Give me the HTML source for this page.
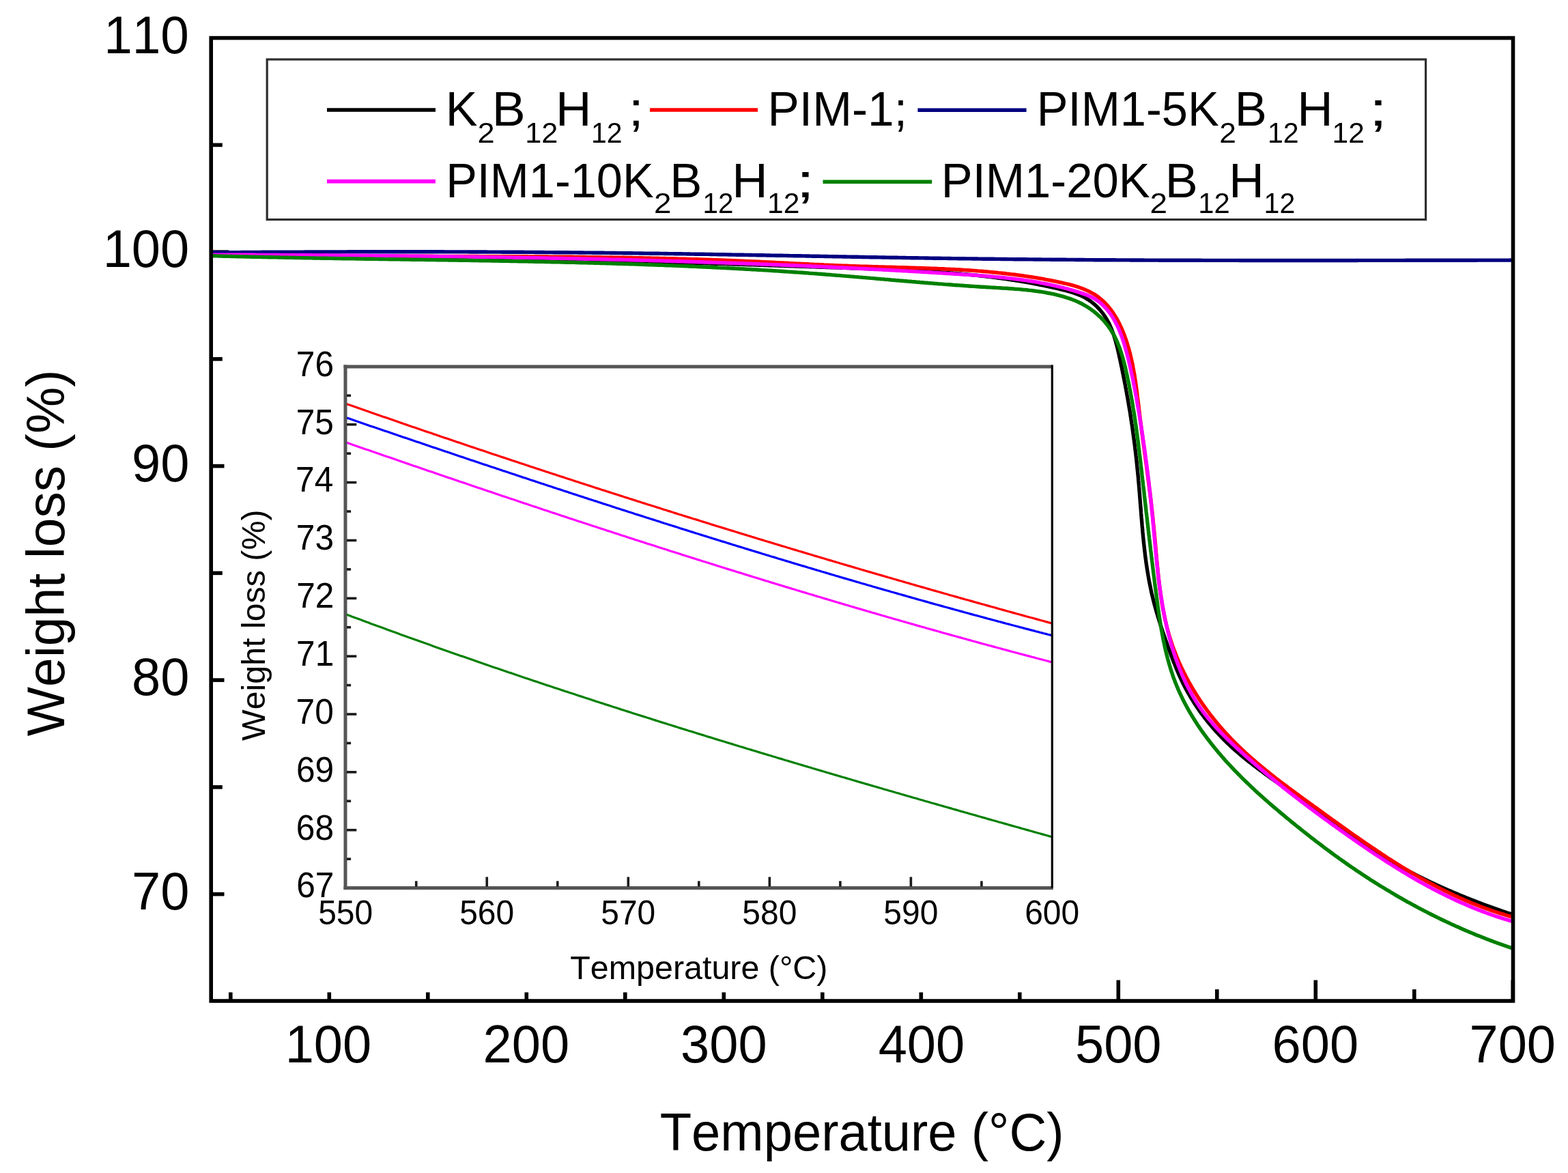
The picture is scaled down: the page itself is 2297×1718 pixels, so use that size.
<!DOCTYPE html>
<html><head><meta charset="utf-8"><title>TGA weight loss</title>
<style>html,body{margin:0;padding:0;background:#fff;width:2297px;height:1718px;overflow:hidden}svg{display:block}text{font-kerning:none;font-variant-ligatures:none}</style>
</head><body>
<svg width="2297" height="1718" viewBox="0 0 2297 1718">
<rect x="0" y="0" width="2297" height="1718" fill="#fff"/>
<g stroke="#000" stroke-width="5.6" fill="none">
<line x1="337.8" y1="1466" x2="337.8" y2="1453.4"/>
<line x1="482.3" y1="1466" x2="482.3" y2="1453.4"/>
<line x1="626.8" y1="1466" x2="626.8" y2="1453.4"/>
<line x1="771.3" y1="1466" x2="771.3" y2="1453.4"/>
<line x1="915.8" y1="1466" x2="915.8" y2="1453.4"/>
<line x1="1060.3" y1="1466" x2="1060.3" y2="1453.4"/>
<line x1="1204.8" y1="1466" x2="1204.8" y2="1453.4"/>
<line x1="1349.3" y1="1466" x2="1349.3" y2="1453.4"/>
<line x1="1493.8" y1="1466" x2="1493.8" y2="1453.4"/>
<line x1="1638.3" y1="1466" x2="1638.3" y2="1435.5"/>
<line x1="1782.8" y1="1466" x2="1782.8" y2="1449"/>
<line x1="1927.3" y1="1466" x2="1927.3" y2="1435.5"/>
<line x1="2071.8" y1="1466" x2="2071.8" y2="1449"/>
<line x1="2216.3" y1="1466" x2="2216.3" y2="1435.5"/>
<line x1="309.2" y1="1309.6" x2="328.5" y2="1309.6"/>
<line x1="309.2" y1="1152.85" x2="325.8" y2="1152.85"/>
<line x1="309.2" y1="996.1" x2="328.5" y2="996.1"/>
<line x1="309.2" y1="839.35" x2="325.8" y2="839.35"/>
<line x1="309.2" y1="682.6" x2="328.5" y2="682.6"/>
<line x1="309.2" y1="525.85" x2="325.8" y2="525.85"/>
<line x1="309.2" y1="369.1" x2="335" y2="369.1"/>
<line x1="309.2" y1="212.35" x2="325.8" y2="212.35"/>
</g>
<g fill="none" stroke-width="5.4" stroke-linejoin="round" stroke-linecap="butt">
<path d="M308.9,374.2 311.9,374.2 314.9,374.2 318.0,374.2 321.0,374.2 324.0,374.2 327.0,374.2 330.0,374.2 333.0,374.1 336.0,374.1 339.1,374.1 342.1,374.1 345.1,374.1 348.1,374.1 351.1,374.1 354.1,374.1 357.1,374.1 360.1,374.1 363.2,374.1 366.2,374.1 369.2,374.1 372.2,374.1 375.2,374.1 378.2,374.1 381.2,374.1 384.2,374.1 387.3,374.1 390.3,374.1 393.3,374.1 396.3,374.1 399.3,374.1 402.3,374.1 405.3,374.1 408.3,374.1 411.3,374.1 414.4,374.1 417.4,374.1 420.4,374.1 423.4,374.1 426.4,374.1 429.4,374.1 432.4,374.2 435.4,374.2 438.4,374.2 441.4,374.2 444.5,374.2 447.5,374.2 450.5,374.2 453.5,374.2 456.5,374.3 459.5,374.3 462.5,374.3 465.5,374.3 468.5,374.3 471.5,374.3 474.5,374.4 477.6,374.4 480.6,374.4 483.6,374.4 486.6,374.4 489.6,374.5 492.6,374.5 495.6,374.5 498.6,374.5 501.6,374.6 504.6,374.6 507.6,374.6 510.6,374.6 513.6,374.6 516.7,374.7 519.7,374.7 522.7,374.7 525.7,374.8 528.7,374.8 531.7,374.8 534.7,374.8 537.7,374.9 540.7,374.9 543.7,374.9 546.7,375.0 549.7,375.0 552.7,375.0 555.7,375.1 558.7,375.1 561.8,375.1 564.8,375.2 567.8,375.2 570.8,375.2 573.8,375.3 576.8,375.3 579.8,375.3 582.8,375.4 585.8,375.4 588.8,375.5 591.8,375.5 594.8,375.5 597.8,375.6 600.8,375.6 603.8,375.7 606.8,375.7 609.8,375.7 612.9,375.8 615.9,375.8 618.9,375.9 621.9,375.9 624.9,376.0 627.9,376.0 630.9,376.1 633.9,376.1 636.9,376.1 639.9,376.2 642.9,376.2 645.9,376.3 648.9,376.3 651.9,376.4 654.9,376.4 657.9,376.5 660.9,376.5 663.9,376.6 666.9,376.6 669.9,376.7 672.9,376.7 676.0,376.8 679.0,376.8 682.0,376.9 685.0,377.0 688.0,377.0 691.0,377.1 694.0,377.1 697.0,377.2 700.0,377.2 703.0,377.3 706.0,377.3 709.0,377.4 712.0,377.5 715.0,377.5 718.0,377.6 721.0,377.6 724.0,377.7 727.0,377.8 730.0,377.8 733.0,377.9 736.0,377.9 739.0,378.0 742.0,378.1 745.0,378.1 748.0,378.2 751.0,378.2 754.0,378.3 757.1,378.4 760.1,378.4 763.1,378.5 766.1,378.6 769.1,378.6 772.1,378.7 775.1,378.8 778.1,378.8 781.1,378.9 784.1,379.0 787.1,379.0 790.1,379.1 793.1,379.2 796.1,379.2 799.1,379.3 802.1,379.4 805.1,379.4 808.1,379.5 811.1,379.6 814.1,379.7 817.1,379.7 820.1,379.8 823.1,379.9 826.1,379.9 829.1,380.0 832.1,380.1 835.1,380.2 838.1,380.2 841.1,380.3 844.1,380.4 847.2,380.5 850.2,380.5 853.2,380.6 856.2,380.7 859.2,380.8 862.2,380.8 865.2,380.9 868.2,381.0 871.2,381.1 874.2,381.2 877.2,381.2 880.2,381.3 883.2,381.4 886.2,381.5 889.2,381.5 892.2,381.6 895.2,381.7 898.2,381.8 901.2,381.9 904.2,381.9 907.2,382.0 910.2,382.1 913.2,382.2 916.2,382.3 919.2,382.4 922.2,382.4 925.2,382.5 928.2,382.6 931.2,382.7 934.3,382.8 937.3,382.9 940.3,382.9 943.3,383.0 946.3,383.1 949.3,383.2 952.3,383.3 955.3,383.4 958.3,383.5 961.3,383.5 964.3,383.6 967.3,383.7 970.3,383.8 973.3,383.9 976.3,384.0 979.3,384.1 982.3,384.2 985.3,384.2 988.3,384.3 991.3,384.4 994.3,384.5 997.3,384.6 1000.3,384.7 1003.3,384.8 1006.3,384.9 1009.4,385.0 1012.4,385.1 1015.4,385.1 1018.4,385.2 1021.4,385.3 1024.4,385.4 1027.4,385.5 1030.4,385.6 1033.4,385.7 1036.4,385.8 1039.4,385.9 1042.4,386.0 1045.4,386.1 1048.4,386.2 1051.4,386.3 1054.4,386.3 1057.4,386.4 1060.4,386.5 1063.4,386.6 1066.4,386.7 1069.5,386.8 1072.5,386.9 1075.5,387.0 1078.5,387.1 1081.5,387.2 1084.5,387.3 1087.5,387.4 1090.5,387.5 1093.5,387.6 1096.5,387.7 1099.5,387.8 1102.5,387.9 1105.5,388.0 1108.5,388.1 1111.5,388.2 1114.5,388.3 1117.6,388.4 1120.6,388.5 1123.6,388.6 1126.6,388.7 1129.6,388.8 1132.6,388.9 1135.6,389.0 1138.6,389.1 1141.6,389.2 1144.6,389.3 1147.6,389.4 1150.6,389.5 1153.6,389.6 1156.6,389.7 1159.7,389.8 1162.7,389.9 1165.7,390.0 1168.7,390.1 1171.7,390.2 1174.7,390.3 1177.7,390.4 1180.7,390.5 1183.7,390.6 1186.7,390.7 1189.7,390.8 1192.7,390.9 1195.8,391.0 1198.8,391.1 1201.8,391.2 1204.8,391.3 1207.8,391.4 1210.8,391.5 1213.8,391.6 1216.8,391.7 1219.8,391.8 1222.8,391.9 1225.9,392.0 1228.9,392.1 1231.9,392.2 1234.9,392.3 1237.9,392.4 1240.9,392.5 1243.9,392.6 1246.9,392.7 1249.9,392.8 1252.9,392.9 1256.0,393.0 1259.0,393.1 1262.0,393.2 1265.0,393.3 1268.0,393.5 1271.0,393.6 1274.0,393.7 1277.0,393.8 1280.0,393.9 1283.1,394.0 1286.1,394.1 1289.1,394.2 1292.1,394.3 1295.1,394.5 1298.1,394.6 1301.1,394.7 1304.1,394.8 1307.1,394.9 1310.2,395.1 1313.2,395.2 1316.2,395.3 1319.2,395.5 1322.2,395.6 1325.2,395.7 1328.2,395.9 1331.2,396.0 1334.2,396.2 1337.2,396.3 1340.2,396.5 1343.3,396.6 1346.3,396.8 1349.3,397.0 1352.3,397.1 1355.3,397.3 1358.3,397.5 1361.3,397.7 1364.3,397.9 1367.3,398.1 1370.3,398.3 1373.3,398.5 1376.3,398.7 1379.3,398.9 1382.3,399.1 1385.3,399.3 1388.3,399.5 1391.3,399.8 1394.3,400.0 1397.3,400.3 1400.3,400.5 1403.3,400.8 1406.3,401.0 1409.3,401.3 1412.3,401.5 1415.3,401.8 1418.3,402.1 1421.3,402.4 1424.3,402.7 1427.3,403.0 1430.3,403.3 1433.3,403.6 1436.3,404.0 1439.3,404.3 1442.3,404.6 1445.3,405.0 1448.3,405.3 1451.2,405.7 1454.2,406.1 1457.2,406.4 1460.2,406.8 1463.2,407.2 1466.2,407.6 1469.2,408.0 1472.1,408.4 1475.1,408.9 1478.1,409.3 1481.1,409.8 1484.1,410.2 1487.0,410.7 1490.0,411.1 1493.0,411.6 1496.0,412.1 1499.0,412.6 1501.9,413.1 1504.9,413.6 1507.9,414.2 1510.8,414.7 1513.8,415.3 1516.8,415.8 1519.8,416.4 1522.7,417.0 1525.7,417.6 1528.7,418.2 1531.6,418.8 1534.6,419.4 1537.5,420.0 1540.5,420.7 1543.5,421.3 1546.4,422.0 1549.4,422.7 1552.3,423.3 1555.3,424.1 1558.2,424.8 1561.1,425.5 1564.1,426.3 1567.0,427.1 1569.8,428.0 1572.7,428.9 1575.5,429.9 1578.2,430.9 1580.9,432.0 1583.6,433.1 1586.2,434.4 1588.8,435.7 1591.3,437.1 1593.7,438.6 1596.1,440.2 1598.4,441.8 1600.7,443.6 1602.9,445.4 1605.0,447.3 1607.1,449.3 1609.0,451.3 1611.0,453.4 1612.8,455.6 1614.6,457.9 1616.4,460.2 1618.0,462.5 1619.6,465.0 1621.2,467.5 1622.6,470.0 1624.0,472.6 1625.4,475.3 1626.6,478.0 1627.8,480.7 1628.9,483.5 1630.0,486.4 1631.0,489.2 1632.0,492.1 1632.9,495.1 1633.8,498.0 1634.6,501.0 1635.4,504.0 1636.2,507.0 1637.0,510.0 1637.7,513.1 1638.4,516.1 1639.1,519.1 1639.7,522.2 1640.4,525.2 1641.1,528.3 1641.7,531.3 1642.3,534.3 1643.0,537.3 1643.6,540.3 1644.2,543.3 1644.8,546.4 1645.5,549.4 1646.0,552.4 1646.6,555.3 1647.2,558.3 1647.8,561.3 1648.4,564.3 1648.9,567.3 1649.5,570.3 1650.0,573.2 1650.6,576.2 1651.1,579.2 1651.7,582.2 1652.2,585.1 1652.7,588.1 1653.2,591.1 1653.7,594.0 1654.2,597.0 1654.7,599.9 1655.2,602.9 1655.7,605.8 1656.1,608.8 1656.6,611.7 1657.0,614.7 1657.5,617.6 1657.9,620.6 1658.4,623.5 1658.8,626.5 1659.2,629.4 1659.6,632.4 1660.0,635.3 1660.4,638.3 1660.8,641.2 1661.2,644.2 1661.6,647.2 1662.0,650.1 1662.4,653.1 1662.7,656.0 1663.1,659.0 1663.4,661.9 1663.8,664.9 1664.1,667.8 1664.5,670.8 1664.8,673.8 1665.1,676.7 1665.4,679.7 1665.7,682.7 1666.0,685.6 1666.3,688.6 1666.6,691.6 1666.9,694.6 1667.2,697.6 1667.5,700.6 1667.7,703.5 1668.0,706.5 1668.3,709.5 1668.5,712.5 1668.8,715.5 1669.0,718.5 1669.3,721.5 1669.5,724.6 1669.7,727.6 1670.0,730.6 1670.2,733.6 1670.4,736.6 1670.7,739.6 1670.9,742.6 1671.2,745.6 1671.4,748.7 1671.6,751.7 1671.9,754.7 1672.1,757.7 1672.4,760.7 1672.6,763.8 1672.9,766.8 1673.1,769.8 1673.4,772.8 1673.7,775.8 1673.9,778.8 1674.2,781.8 1674.5,784.9 1674.8,787.9 1675.1,790.9 1675.4,793.9 1675.7,796.9 1676.1,799.9 1676.4,802.9 1676.7,805.9 1677.1,808.9 1677.4,811.9 1677.8,814.9 1678.2,817.9 1678.6,820.9 1679.0,823.8 1679.4,826.8 1679.9,829.8 1680.3,832.8 1680.8,835.7 1681.3,838.7 1681.8,841.7 1682.3,844.6 1682.8,847.6 1683.3,850.5 1683.9,853.5 1684.5,856.4 1685.1,859.3 1685.7,862.3 1686.3,865.2 1686.9,868.1 1687.6,871.0 1688.3,873.9 1689.0,876.8 1689.7,879.7 1690.5,882.6 1691.2,885.5 1692.0,888.3 1692.8,891.2 1693.6,894.1 1694.4,897.0 1695.3,899.8 1696.1,902.7 1697.0,905.5 1697.9,908.4 1698.8,911.2 1699.7,914.1 1700.6,916.9 1701.5,919.7 1702.5,922.6 1703.4,925.4 1704.4,928.3 1705.4,931.1 1706.4,933.9 1707.4,936.8 1708.4,939.6 1709.4,942.4 1710.4,945.3 1711.4,948.1 1712.4,950.9 1713.4,953.7 1714.5,956.6 1715.5,959.4 1716.6,962.2 1717.7,965.0 1718.7,967.9 1719.8,970.7 1721.0,973.5 1722.1,976.3 1723.2,979.1 1724.4,981.8 1725.6,984.6 1726.8,987.4 1728.0,990.1 1729.3,992.9 1730.5,995.6 1731.8,998.3 1733.1,1001.0 1734.5,1003.7 1735.9,1006.4 1737.3,1009.0 1738.7,1011.7 1740.2,1014.3 1741.7,1016.9 1743.2,1019.5 1744.7,1022.1 1746.3,1024.6 1747.9,1027.2 1749.5,1029.7 1751.1,1032.2 1752.8,1034.7 1754.5,1037.2 1756.2,1039.7 1757.9,1042.1 1759.7,1044.6 1761.5,1047.0 1763.3,1049.4 1765.1,1051.8 1767.0,1054.1 1768.8,1056.5 1770.7,1058.8 1772.6,1061.1 1774.6,1063.4 1776.5,1065.7 1778.5,1067.9 1780.5,1070.2 1782.5,1072.4 1784.6,1074.6 1786.6,1076.8 1788.7,1079.0 1790.8,1081.1 1792.9,1083.3 1795.0,1085.4 1797.2,1087.5 1799.3,1089.6 1801.5,1091.6 1803.7,1093.7 1805.9,1095.7 1808.2,1097.7 1810.4,1099.7 1812.7,1101.6 1814.9,1103.6 1817.2,1105.5 1819.5,1107.5 1821.8,1109.4 1824.2,1111.3 1826.5,1113.2 1828.8,1115.0 1831.2,1116.9 1833.6,1118.7 1835.9,1120.6 1838.3,1122.4 1840.7,1124.2 1843.1,1126.0 1845.5,1127.8 1848.0,1129.6 1850.4,1131.4 1852.8,1133.2 1855.3,1134.9 1857.7,1136.7 1860.1,1138.5 1862.6,1140.2 1865.1,1142.0 1867.5,1143.7 1870.0,1145.4 1872.4,1147.2 1874.9,1148.9 1877.4,1150.7 1879.8,1152.4 1882.3,1154.1 1884.8,1155.9 1887.2,1157.6 1889.7,1159.3 1892.2,1161.1 1894.6,1162.8 1897.1,1164.6 1899.5,1166.3 1902.0,1168.1 1904.4,1169.8 1906.9,1171.6 1909.3,1173.4 1911.8,1175.2 1914.2,1176.9 1916.6,1178.7 1919.0,1180.5 1921.5,1182.3 1923.9,1184.1 1926.3,1185.8 1928.7,1187.6 1931.2,1189.4 1933.6,1191.2 1936.0,1193.0 1938.4,1194.8 1940.8,1196.6 1943.3,1198.4 1945.7,1200.1 1948.1,1201.9 1950.5,1203.7 1952.9,1205.5 1955.4,1207.2 1957.8,1209.0 1960.2,1210.8 1962.7,1212.5 1965.1,1214.3 1967.5,1216.0 1970.0,1217.8 1972.4,1219.5 1974.9,1221.3 1977.3,1223.0 1979.8,1224.7 1982.2,1226.4 1984.7,1228.1 1987.2,1229.8 1989.7,1231.5 1992.1,1233.2 1994.6,1234.9 1997.1,1236.6 1999.6,1238.2 2002.1,1239.9 2004.7,1241.5 2007.2,1243.1 2009.7,1244.7 2012.2,1246.3 2014.8,1247.9 2017.3,1249.5 2019.9,1251.1 2022.5,1252.6 2025.0,1254.2 2027.6,1255.7 2030.2,1257.3 2032.8,1258.8 2035.4,1260.3 2038.0,1261.8 2040.6,1263.3 2043.2,1264.8 2045.8,1266.2 2048.5,1267.7 2051.1,1269.1 2053.7,1270.6 2056.4,1272.0 2059.0,1273.4 2061.7,1274.9 2064.3,1276.3 2067.0,1277.6 2069.7,1279.0 2072.4,1280.4 2075.0,1281.8 2077.7,1283.1 2080.4,1284.5 2083.1,1285.8 2085.8,1287.1 2088.5,1288.5 2091.2,1289.8 2093.9,1291.1 2096.7,1292.4 2099.4,1293.6 2102.1,1294.9 2104.8,1296.2 2107.6,1297.4 2110.3,1298.7 2113.1,1299.9 2115.8,1301.1 2118.6,1302.4 2121.3,1303.6 2124.1,1304.8 2126.8,1306.0 2129.6,1307.2 2132.4,1308.3 2135.2,1309.5 2137.9,1310.7 2140.7,1311.8 2143.5,1312.9 2146.3,1314.1 2149.1,1315.2 2151.9,1316.3 2154.7,1317.4 2157.5,1318.5 2160.3,1319.6 2163.1,1320.7 2165.9,1321.8 2168.7,1322.8 2171.5,1323.9 2174.3,1325.0 2177.1,1326.0 2179.9,1327.0 2182.8,1328.1 2185.6,1329.1 2188.4,1330.1 2191.2,1331.1 2194.1,1332.1 2196.9,1333.1 2199.7,1334.1 2202.6,1335.0 2205.4,1336.0 2208.2,1337.0 2211.1,1337.9 2213.9,1338.9" stroke="#000"/>
<path d="M309.1,371.2 312.1,371.3 315.1,371.4 318.1,371.5 321.1,371.6 324.0,371.7 327.0,371.8 330.0,371.8 333.0,371.9 336.0,372.0 339.0,372.1 342.0,372.1 345.0,372.2 348.0,372.3 351.0,372.4 354.0,372.4 357.0,372.5 360.0,372.6 363.0,372.6 366.0,372.7 369.0,372.8 372.0,372.8 375.0,372.9 378.0,373.0 381.0,373.0 384.0,373.1 387.0,373.1 390.0,373.2 393.0,373.3 396.0,373.3 399.0,373.4 402.0,373.4 405.1,373.5 408.1,373.5 411.1,373.6 414.1,373.6 417.1,373.7 420.1,373.7 423.1,373.8 426.1,373.8 429.1,373.8 432.1,373.9 435.1,373.9 438.1,374.0 441.1,374.0 444.1,374.1 447.1,374.1 450.1,374.1 453.1,374.2 456.1,374.2 459.1,374.2 462.1,374.3 465.1,374.3 468.1,374.3 471.1,374.4 474.1,374.4 477.1,374.4 480.1,374.5 483.2,374.5 486.2,374.5 489.2,374.6 492.2,374.6 495.2,374.6 498.2,374.6 501.2,374.7 504.2,374.7 507.2,374.7 510.2,374.7 513.2,374.8 516.2,374.8 519.2,374.8 522.2,374.8 525.2,374.8 528.2,374.9 531.2,374.9 534.3,374.9 537.3,374.9 540.3,374.9 543.3,375.0 546.3,375.0 549.3,375.0 552.3,375.0 555.3,375.0 558.3,375.0 561.3,375.1 564.3,375.1 567.3,375.1 570.3,375.1 573.4,375.1 576.4,375.1 579.4,375.1 582.4,375.2 585.4,375.2 588.4,375.2 591.4,375.2 594.4,375.2 597.4,375.2 600.4,375.2 603.4,375.2 606.4,375.3 609.4,375.3 612.5,375.3 615.5,375.3 618.5,375.3 621.5,375.3 624.5,375.3 627.5,375.3 630.5,375.3 633.5,375.3 636.5,375.4 639.5,375.4 642.5,375.4 645.6,375.4 648.6,375.4 651.6,375.4 654.6,375.4 657.6,375.4 660.6,375.4 663.6,375.4 666.6,375.4 669.6,375.4 672.6,375.5 675.6,375.5 678.7,375.5 681.7,375.5 684.7,375.5 687.7,375.5 690.7,375.5 693.7,375.5 696.7,375.5 699.7,375.5 702.7,375.6 705.7,375.6 708.7,375.6 711.8,375.6 714.8,375.6 717.8,375.6 720.8,375.6 723.8,375.6 726.8,375.6 729.8,375.6 732.8,375.7 735.8,375.7 738.8,375.7 741.8,375.7 744.9,375.7 747.9,375.7 750.9,375.7 753.9,375.8 756.9,375.8 759.9,375.8 762.9,375.8 765.9,375.8 768.9,375.8 771.9,375.8 774.9,375.9 778.0,375.9 781.0,375.9 784.0,375.9 787.0,375.9 790.0,376.0 793.0,376.0 796.0,376.0 799.0,376.0 802.0,376.0 805.0,376.1 808.0,376.1 811.0,376.1 814.1,376.1 817.1,376.2 820.1,376.2 823.1,376.2 826.1,376.2 829.1,376.3 832.1,376.3 835.1,376.3 838.1,376.3 841.1,376.4 844.1,376.4 847.1,376.4 850.1,376.5 853.2,376.5 856.2,376.5 859.2,376.6 862.2,376.6 865.2,376.6 868.2,376.7 871.2,376.7 874.2,376.7 877.2,376.8 880.2,376.8 883.2,376.9 886.2,376.9 889.2,376.9 892.2,377.0 895.2,377.0 898.3,377.1 901.3,377.1 904.3,377.2 907.3,377.2 910.3,377.3 913.3,377.3 916.3,377.4 919.3,377.4 922.3,377.5 925.3,377.5 928.3,377.6 931.3,377.6 934.3,377.7 937.3,377.7 940.3,377.8 943.3,377.9 946.3,377.9 949.3,378.0 952.4,378.0 955.4,378.1 958.4,378.2 961.4,378.2 964.4,378.3 967.4,378.4 970.4,378.4 973.4,378.5 976.4,378.6 979.4,378.7 982.4,378.7 985.4,378.8 988.4,378.9 991.4,379.0 994.4,379.1 997.4,379.1 1000.4,379.2 1003.4,379.3 1006.4,379.4 1009.4,379.5 1012.4,379.6 1015.4,379.6 1018.4,379.7 1021.4,379.8 1024.4,379.9 1027.4,380.0 1030.4,380.1 1033.4,380.2 1036.4,380.3 1039.4,380.4 1042.4,380.5 1045.4,380.6 1048.4,380.7 1051.4,380.8 1054.4,380.9 1057.4,381.0 1060.4,381.2 1063.4,381.3 1066.4,381.4 1069.4,381.5 1072.4,381.6 1075.4,381.7 1078.4,381.9 1081.4,382.0 1084.4,382.1 1087.4,382.2 1090.4,382.4 1093.4,382.5 1096.4,382.6 1099.4,382.8 1102.4,382.9 1105.4,383.0 1108.4,383.2 1111.4,383.3 1114.4,383.4 1117.4,383.6 1120.4,383.7 1123.4,383.9 1126.4,384.0 1129.4,384.2 1132.3,384.3 1135.3,384.4 1138.3,384.6 1141.3,384.7 1144.3,384.9 1147.3,385.0 1150.3,385.2 1153.3,385.3 1156.3,385.5 1159.3,385.6 1162.3,385.8 1165.3,385.9 1168.3,386.1 1171.3,386.2 1174.3,386.4 1177.3,386.5 1180.3,386.7 1183.3,386.8 1186.3,387.0 1189.3,387.1 1192.3,387.3 1195.3,387.4 1198.3,387.5 1201.3,387.7 1204.3,387.8 1207.3,388.0 1210.3,388.1 1213.3,388.2 1216.3,388.4 1219.3,388.5 1222.3,388.6 1225.3,388.7 1228.3,388.9 1231.3,389.0 1234.3,389.1 1237.3,389.2 1240.3,389.3 1243.3,389.4 1246.3,389.6 1249.3,389.7 1252.3,389.8 1255.3,389.9 1258.3,390.0 1261.3,390.1 1264.3,390.2 1267.3,390.3 1270.3,390.3 1273.3,390.4 1276.3,390.5 1279.3,390.6 1282.3,390.7 1285.3,390.8 1288.4,390.9 1291.4,390.9 1294.4,391.0 1297.4,391.1 1300.4,391.2 1303.4,391.3 1306.4,391.3 1309.4,391.4 1312.4,391.5 1315.4,391.6 1318.5,391.7 1321.5,391.7 1324.5,391.8 1327.5,391.9 1330.5,392.0 1333.5,392.1 1336.5,392.2 1339.5,392.3 1342.5,392.4 1345.6,392.4 1348.6,392.5 1351.6,392.6 1354.6,392.7 1357.6,392.9 1360.6,393.0 1363.6,393.1 1366.6,393.2 1369.7,393.3 1372.7,393.4 1375.7,393.6 1378.7,393.7 1381.7,393.8 1384.7,394.0 1387.7,394.1 1390.7,394.2 1393.7,394.4 1396.8,394.5 1399.8,394.7 1402.8,394.9 1405.8,395.0 1408.8,395.2 1411.8,395.4 1414.8,395.6 1417.8,395.8 1420.8,396.0 1423.8,396.2 1426.8,396.4 1429.9,396.6 1432.9,396.9 1435.9,397.1 1438.9,397.3 1441.9,397.6 1444.9,397.8 1447.9,398.1 1450.9,398.4 1453.9,398.7 1456.9,399.0 1459.9,399.2 1462.9,399.6 1465.9,399.9 1468.9,400.2 1471.9,400.5 1474.9,400.9 1477.9,401.2 1480.9,401.6 1483.9,401.9 1486.9,402.3 1489.9,402.7 1492.9,403.1 1495.9,403.5 1498.9,403.9 1501.9,404.4 1504.9,404.8 1507.9,405.3 1510.9,405.7 1513.9,406.2 1516.9,406.7 1519.9,407.2 1522.8,407.7 1525.8,408.2 1528.8,408.7 1531.8,409.3 1534.8,409.8 1537.8,410.4 1540.8,411.0 1543.8,411.6 1546.7,412.2 1549.7,412.8 1552.7,413.5 1555.7,414.1 1558.7,414.8 1561.6,415.5 1564.6,416.2 1567.5,416.9 1570.4,417.7 1573.3,418.5 1576.2,419.4 1579.0,420.3 1581.8,421.2 1584.6,422.2 1587.3,423.3 1590.0,424.4 1592.7,425.6 1595.3,426.8 1597.8,428.1 1600.3,429.5 1602.8,430.9 1605.2,432.4 1607.5,434.0 1609.7,435.7 1611.9,437.5 1614.1,439.3 1616.2,441.2 1618.2,443.2 1620.1,445.2 1622.1,447.3 1623.9,449.4 1625.7,451.6 1627.5,453.9 1629.2,456.2 1630.8,458.6 1632.4,461.1 1634.0,463.5 1635.5,466.1 1636.9,468.6 1638.3,471.3 1639.7,473.9 1641.0,476.6 1642.3,479.3 1643.5,482.1 1644.7,484.9 1645.9,487.7 1647.0,490.6 1648.0,493.5 1649.1,496.4 1650.1,499.3 1651.0,502.2 1651.9,505.2 1652.8,508.2 1653.7,511.1 1654.5,514.1 1655.3,517.1 1656.0,520.1 1656.7,523.2 1657.4,526.2 1658.1,529.2 1658.7,532.2 1659.4,535.2 1659.9,538.2 1660.5,541.2 1661.0,544.3 1661.6,547.3 1662.1,550.3 1662.5,553.3 1663.0,556.3 1663.5,559.3 1663.9,562.3 1664.3,565.3 1664.7,568.3 1665.1,571.3 1665.5,574.3 1665.9,577.3 1666.2,580.3 1666.6,583.3 1667.0,586.3 1667.3,589.2 1667.7,592.2 1668.1,595.2 1668.4,598.2 1668.8,601.2 1669.1,604.2 1669.5,607.1 1669.9,610.1 1670.2,613.1 1670.6,616.1 1671.0,619.0 1671.4,622.0 1671.8,625.0 1672.2,627.9 1672.5,630.9 1672.9,633.9 1673.3,636.8 1673.7,639.8 1674.1,642.8 1674.5,645.7 1674.9,648.7 1675.3,651.6 1675.7,654.6 1676.1,657.6 1676.5,660.5 1676.9,663.5 1677.3,666.4 1677.7,669.4 1678.1,672.4 1678.5,675.3 1678.9,678.3 1679.3,681.2 1679.7,684.2 1680.1,687.2 1680.5,690.1 1680.9,693.1 1681.2,696.0 1681.6,699.0 1682.0,702.0 1682.4,704.9 1682.8,707.9 1683.2,710.9 1683.5,713.8 1683.9,716.8 1684.3,719.8 1684.7,722.7 1685.0,725.7 1685.4,728.7 1685.8,731.6 1686.1,734.6 1686.5,737.6 1686.8,740.6 1687.2,743.5 1687.5,746.5 1687.8,749.5 1688.2,752.5 1688.5,755.5 1688.8,758.5 1689.1,761.5 1689.4,764.5 1689.7,767.5 1690.1,770.5 1690.3,773.5 1690.6,776.5 1690.9,779.5 1691.2,782.5 1691.5,785.5 1691.8,788.5 1692.0,791.5 1692.3,794.6 1692.6,797.6 1692.8,800.6 1693.1,803.6 1693.4,806.6 1693.6,809.7 1693.9,812.7 1694.2,815.7 1694.4,818.7 1694.7,821.7 1695.0,824.8 1695.3,827.8 1695.6,830.8 1695.9,833.8 1696.2,836.8 1696.5,839.8 1696.8,842.9 1697.1,845.9 1697.5,848.9 1697.8,851.9 1698.2,854.9 1698.5,857.9 1698.9,860.9 1699.3,863.9 1699.7,866.9 1700.1,869.9 1700.6,872.8 1701.0,875.8 1701.5,878.8 1701.9,881.8 1702.4,884.7 1702.9,887.7 1703.5,890.7 1704.0,893.6 1704.6,896.5 1705.2,899.5 1705.8,902.4 1706.4,905.4 1707.0,908.3 1707.7,911.2 1708.4,914.1 1709.1,917.0 1709.8,919.9 1710.6,922.8 1711.4,925.7 1712.2,928.5 1713.0,931.4 1713.9,934.3 1714.8,937.1 1715.7,940.0 1716.7,942.8 1717.6,945.6 1718.6,948.4 1719.6,951.2 1720.7,954.0 1721.8,956.8 1722.9,959.6 1724.0,962.4 1725.2,965.1 1726.3,967.9 1727.5,970.6 1728.8,973.3 1730.0,976.1 1731.3,978.8 1732.6,981.5 1733.9,984.2 1735.2,986.8 1736.6,989.5 1738.0,992.2 1739.4,994.8 1740.8,997.5 1742.3,1000.1 1743.8,1002.7 1745.3,1005.3 1746.8,1007.9 1748.3,1010.5 1749.9,1013.0 1751.5,1015.6 1753.1,1018.1 1754.7,1020.7 1756.4,1023.2 1758.0,1025.7 1759.7,1028.2 1761.4,1030.7 1763.1,1033.1 1764.9,1035.6 1766.6,1038.0 1768.4,1040.5 1770.2,1042.9 1772.0,1045.3 1773.8,1047.7 1775.7,1050.0 1777.6,1052.4 1779.4,1054.7 1781.3,1057.1 1783.3,1059.4 1785.2,1061.7 1787.2,1064.0 1789.1,1066.3 1791.1,1068.5 1793.1,1070.8 1795.1,1073.0 1797.1,1075.2 1799.2,1077.4 1801.2,1079.6 1803.3,1081.8 1805.4,1083.9 1807.5,1086.1 1809.6,1088.2 1811.7,1090.3 1813.9,1092.4 1816.0,1094.5 1818.2,1096.5 1820.4,1098.6 1822.6,1100.6 1824.8,1102.7 1827.0,1104.7 1829.2,1106.7 1831.4,1108.7 1833.7,1110.7 1835.9,1112.6 1838.2,1114.6 1840.5,1116.6 1842.8,1118.5 1845.1,1120.4 1847.4,1122.4 1849.7,1124.3 1852.0,1126.2 1854.3,1128.1 1856.7,1129.9 1859.0,1131.8 1861.3,1133.7 1863.7,1135.5 1866.1,1137.4 1868.4,1139.3 1870.8,1141.1 1873.2,1142.9 1875.6,1144.8 1878.0,1146.6 1880.4,1148.4 1882.8,1150.2 1885.2,1152.0 1887.6,1153.8 1890.0,1155.6 1892.5,1157.4 1894.9,1159.2 1897.3,1161.0 1899.7,1162.8 1902.2,1164.5 1904.6,1166.3 1907.0,1168.1 1909.5,1169.9 1911.9,1171.6 1914.4,1173.4 1916.8,1175.2 1919.3,1176.9 1921.7,1178.7 1924.1,1180.5 1926.6,1182.2 1929.0,1184.0 1931.5,1185.8 1933.9,1187.6 1936.4,1189.3 1938.8,1191.1 1941.3,1192.9 1943.7,1194.6 1946.2,1196.4 1948.6,1198.1 1951.0,1199.9 1953.5,1201.7 1955.9,1203.4 1958.4,1205.2 1960.8,1206.9 1963.3,1208.7 1965.7,1210.5 1968.2,1212.2 1970.7,1214.0 1973.1,1215.7 1975.6,1217.4 1978.0,1219.2 1980.5,1220.9 1982.9,1222.6 1985.4,1224.4 1987.9,1226.1 1990.3,1227.8 1992.8,1229.5 1995.3,1231.3 1997.8,1233.0 2000.2,1234.7 2002.7,1236.4 2005.2,1238.1 2007.7,1239.8 2010.2,1241.4 2012.7,1243.1 2015.2,1244.8 2017.7,1246.5 2020.2,1248.1 2022.7,1249.8 2025.2,1251.5 2027.7,1253.1 2030.2,1254.7 2032.7,1256.4 2035.2,1258.0 2037.7,1259.6 2040.3,1261.2 2042.8,1262.8 2045.3,1264.4 2047.9,1266.0 2050.4,1267.6 2053.0,1269.2 2055.5,1270.8 2058.1,1272.3 2060.6,1273.9 2063.2,1275.4 2065.8,1276.9 2068.4,1278.5 2070.9,1280.0 2073.5,1281.5 2076.1,1283.0 2078.7,1284.5 2081.3,1286.0 2083.9,1287.4 2086.5,1288.9 2089.1,1290.3 2091.8,1291.8 2094.4,1293.2 2097.0,1294.6 2099.7,1296.0 2102.3,1297.4 2105.0,1298.8 2107.6,1300.2 2110.3,1301.6 2113.0,1302.9 2115.6,1304.3 2118.3,1305.6 2121.0,1306.9 2123.7,1308.2 2126.4,1309.5 2129.1,1310.8 2131.8,1312.1 2134.6,1313.3 2137.3,1314.6 2140.0,1315.8 2142.8,1317.0 2145.5,1318.2 2148.3,1319.4 2151.1,1320.6 2153.8,1321.7 2156.6,1322.9 2159.4,1324.0 2162.2,1325.1 2165.0,1326.2 2167.8,1327.3 2170.7,1328.4 2173.5,1329.5 2176.4,1330.5 2179.2,1331.5 2182.1,1332.6 2184.9,1333.6 2187.8,1334.5 2190.7,1335.5 2193.6,1336.5 2196.5,1337.4 2199.4,1338.3 2202.3,1339.2 2205.3,1340.1 2208.2,1341.0 2211.1,1341.8 2214.1,1342.7 2217.1,1343.5" stroke="#f00"/>
<path d="M309.0,369.9 312.0,369.8 315.0,369.8 318.0,369.8 321.0,369.8 324.0,369.7 327.1,369.7 330.1,369.7 333.1,369.7 336.1,369.7 339.1,369.6 342.1,369.6 345.1,369.6 348.1,369.6 351.1,369.6 354.1,369.5 357.1,369.5 360.1,369.5 363.2,369.5 366.2,369.5 369.2,369.4 372.2,369.4 375.2,369.4 378.2,369.4 381.2,369.4 384.2,369.3 387.2,369.3 390.2,369.3 393.2,369.3 396.3,369.3 399.3,369.3 402.3,369.3 405.3,369.2 408.3,369.2 411.3,369.2 414.3,369.2 417.3,369.2 420.3,369.2 423.3,369.1 426.3,369.1 429.4,369.1 432.4,369.1 435.4,369.1 438.4,369.1 441.4,369.1 444.4,369.1 447.4,369.0 450.4,369.0 453.4,369.0 456.4,369.0 459.4,369.0 462.5,369.0 465.5,369.0 468.5,369.0 471.5,369.0 474.5,368.9 477.5,368.9 480.5,368.9 483.5,368.9 486.5,368.9 489.5,368.9 492.5,368.9 495.6,368.9 498.6,368.9 501.6,368.9 504.6,368.9 507.6,368.9 510.6,368.8 513.6,368.8 516.6,368.8 519.6,368.8 522.6,368.8 525.6,368.8 528.6,368.8 531.7,368.8 534.7,368.8 537.7,368.8 540.7,368.8 543.7,368.8 546.7,368.8 549.7,368.8 552.7,368.8 555.7,368.8 558.7,368.8 561.7,368.8 564.8,368.8 567.8,368.8 570.8,368.8 573.8,368.8 576.8,368.8 579.8,368.8 582.8,368.8 585.8,368.8 588.8,368.8 591.8,368.8 594.8,368.8 597.9,368.8 600.9,368.8 603.9,368.8 606.9,368.8 609.9,368.8 612.9,368.8 615.9,368.8 618.9,368.8 621.9,368.8 624.9,368.8 627.9,368.8 630.9,368.8 634.0,368.8 637.0,368.8 640.0,368.8 643.0,368.8 646.0,368.8 649.0,368.8 652.0,368.9 655.0,368.9 658.0,368.9 661.0,368.9 664.0,368.9 667.1,368.9 670.1,368.9 673.1,368.9 676.1,368.9 679.1,368.9 682.1,368.9 685.1,368.9 688.1,369.0 691.1,369.0 694.1,369.0 697.1,369.0 700.2,369.0 703.2,369.0 706.2,369.0 709.2,369.0 712.2,369.0 715.2,369.1 718.2,369.1 721.2,369.1 724.2,369.1 727.2,369.1 730.2,369.1 733.2,369.1 736.3,369.2 739.3,369.2 742.3,369.2 745.3,369.2 748.3,369.2 751.3,369.2 754.3,369.3 757.3,369.3 760.3,369.3 763.3,369.3 766.3,369.3 769.4,369.4 772.4,369.4 775.4,369.4 778.4,369.4 781.4,369.4 784.4,369.5 787.4,369.5 790.4,369.5 793.4,369.5 796.4,369.5 799.4,369.6 802.4,369.6 805.5,369.6 808.5,369.6 811.5,369.7 814.5,369.7 817.5,369.7 820.5,369.7 823.5,369.8 826.5,369.8 829.5,369.8 832.5,369.8 835.5,369.9 838.6,369.9 841.6,369.9 844.6,369.9 847.6,370.0 850.6,370.0 853.6,370.0 856.6,370.1 859.6,370.1 862.6,370.1 865.6,370.1 868.6,370.2 871.6,370.2 874.7,370.2 877.7,370.3 880.7,370.3 883.7,370.3 886.7,370.4 889.7,370.4 892.7,370.4 895.7,370.5 898.7,370.5 901.7,370.5 904.7,370.6 907.7,370.6 910.8,370.6 913.8,370.7 916.8,370.7 919.8,370.7 922.8,370.8 925.8,370.8 928.8,370.9 931.8,370.9 934.8,370.9 937.8,371.0 940.8,371.0 943.8,371.1 946.9,371.1 949.9,371.1 952.9,371.2 955.9,371.2 958.9,371.3 961.9,371.3 964.9,371.3 967.9,371.4 970.9,371.4 973.9,371.5 976.9,371.5 980.0,371.6 983.0,371.6 986.0,371.6 989.0,371.7 992.0,371.7 995.0,371.8 998.0,371.8 1001.0,371.9 1004.0,371.9 1007.0,372.0 1010.0,372.0 1013.0,372.1 1016.1,372.1 1019.1,372.2 1022.1,372.2 1025.1,372.3 1028.1,372.3 1031.1,372.3 1034.1,372.4 1037.1,372.4 1040.1,372.5 1043.1,372.5 1046.1,372.6 1049.1,372.6 1052.2,372.7 1055.2,372.7 1058.2,372.8 1061.2,372.8 1064.2,372.9 1067.2,373.0 1070.2,373.0 1073.2,373.1 1076.2,373.1 1079.2,373.2 1082.2,373.2 1085.2,373.3 1088.3,373.3 1091.3,373.4 1094.3,373.4 1097.3,373.5 1100.3,373.5 1103.3,373.6 1106.3,373.6 1109.3,373.7 1112.3,373.7 1115.3,373.8 1118.3,373.8 1121.3,373.9 1124.4,374.0 1127.4,374.0 1130.4,374.1 1133.4,374.1 1136.4,374.2 1139.4,374.2 1142.4,374.3 1145.4,374.3 1148.4,374.4 1151.4,374.4 1154.4,374.5 1157.4,374.6 1160.5,374.6 1163.5,374.7 1166.5,374.7 1169.5,374.8 1172.5,374.8 1175.5,374.9 1178.5,374.9 1181.5,375.0 1184.5,375.0 1187.5,375.1 1190.5,375.2 1193.5,375.2 1196.6,375.3 1199.6,375.3 1202.6,375.4 1205.6,375.4 1208.6,375.5 1211.6,375.5 1214.6,375.6 1217.6,375.6 1220.6,375.7 1223.6,375.8 1226.6,375.8 1229.6,375.9 1232.7,375.9 1235.7,376.0 1238.7,376.0 1241.7,376.1 1244.7,376.1 1247.7,376.2 1250.7,376.2 1253.7,376.3 1256.7,376.3 1259.7,376.4 1262.7,376.5 1265.7,376.5 1268.8,376.6 1271.8,376.6 1274.8,376.7 1277.8,376.7 1280.8,376.8 1283.8,376.8 1286.8,376.9 1289.8,376.9 1292.8,377.0 1295.8,377.0 1298.8,377.1 1301.8,377.1 1304.9,377.2 1307.9,377.2 1310.9,377.3 1313.9,377.3 1316.9,377.4 1319.9,377.4 1322.9,377.5 1325.9,377.5 1328.9,377.6 1331.9,377.6 1334.9,377.7 1337.9,377.7 1341.0,377.8 1344.0,377.8 1347.0,377.9 1350.0,377.9 1353.0,377.9 1356.0,378.0 1359.0,378.0 1362.0,378.1 1365.0,378.1 1368.0,378.2 1371.0,378.2 1374.0,378.3 1377.1,378.3 1380.1,378.4 1383.1,378.4 1386.1,378.4 1389.1,378.5 1392.1,378.5 1395.1,378.6 1398.1,378.6 1401.1,378.6 1404.1,378.7 1407.1,378.7 1410.1,378.8 1413.2,378.8 1416.2,378.9 1419.2,378.9 1422.2,378.9 1425.2,379.0 1428.2,379.0 1431.2,379.0 1434.2,379.1 1437.2,379.1 1440.2,379.2 1443.2,379.2 1446.3,379.2 1449.3,379.3 1452.3,379.3 1455.3,379.3 1458.3,379.4 1461.3,379.4 1464.3,379.4 1467.3,379.5 1470.3,379.5 1473.3,379.5 1476.3,379.6 1479.3,379.6 1482.4,379.6 1485.4,379.7 1488.4,379.7 1491.4,379.7 1494.4,379.8 1497.4,379.8 1500.4,379.8 1503.4,379.8 1506.4,379.9 1509.4,379.9 1512.4,379.9 1515.4,380.0 1518.5,380.0 1521.5,380.0 1524.5,380.0 1527.5,380.1 1530.5,380.1 1533.5,380.1 1536.5,380.1 1539.5,380.2 1542.5,380.2 1545.5,380.2 1548.5,380.3 1551.6,380.3 1554.6,380.3 1557.6,380.3 1560.6,380.3 1563.6,380.4 1566.6,380.4 1569.6,380.4 1572.6,380.4 1575.6,380.5 1578.6,380.5 1581.6,380.5 1584.6,380.5 1587.7,380.5 1590.7,380.6 1593.7,380.6 1596.7,380.6 1599.7,380.6 1602.7,380.7 1605.7,380.7 1608.7,380.7 1611.7,380.7 1614.7,380.7 1617.7,380.7 1620.8,380.8 1623.8,380.8 1626.8,380.8 1629.8,380.8 1632.8,380.8 1635.8,380.9 1638.8,380.9 1641.8,380.9 1644.8,380.9 1647.8,380.9 1650.8,380.9 1653.8,380.9 1656.9,381.0 1659.9,381.0 1662.9,381.0 1665.9,381.0 1668.9,381.0 1671.9,381.0 1674.9,381.0 1677.9,381.1 1680.9,381.1 1683.9,381.1 1686.9,381.1 1690.0,381.1 1693.0,381.1 1696.0,381.1 1699.0,381.2 1702.0,381.2 1705.0,381.2 1708.0,381.2 1711.0,381.2 1714.0,381.2 1717.0,381.2 1720.0,381.2 1723.0,381.2 1726.1,381.2 1729.1,381.3 1732.1,381.3 1735.1,381.3 1738.1,381.3 1741.1,381.3 1744.1,381.3 1747.1,381.3 1750.1,381.3 1753.1,381.3 1756.1,381.3 1759.2,381.3 1762.2,381.4 1765.2,381.4 1768.2,381.4 1771.2,381.4 1774.2,381.4 1777.2,381.4 1780.2,381.4 1783.2,381.4 1786.2,381.4 1789.2,381.4 1792.3,381.4 1795.3,381.4 1798.3,381.4 1801.3,381.4 1804.3,381.4 1807.3,381.4 1810.3,381.4 1813.3,381.4 1816.3,381.5 1819.3,381.5 1822.3,381.5 1825.3,381.5 1828.4,381.5 1831.4,381.5 1834.4,381.5 1837.4,381.5 1840.4,381.5 1843.4,381.5 1846.4,381.5 1849.4,381.5 1852.4,381.5 1855.4,381.5 1858.4,381.5 1861.5,381.5 1864.5,381.5 1867.5,381.5 1870.5,381.5 1873.5,381.5 1876.5,381.5 1879.5,381.5 1882.5,381.5 1885.5,381.5 1888.5,381.5 1891.5,381.5 1894.6,381.5 1897.6,381.5 1900.6,381.5 1903.6,381.5 1906.6,381.5 1909.6,381.5 1912.6,381.5 1915.6,381.5 1918.6,381.5 1921.6,381.5 1924.6,381.5 1927.7,381.5 1930.7,381.5 1933.7,381.5 1936.7,381.5 1939.7,381.5 1942.7,381.5 1945.7,381.5 1948.7,381.5 1951.7,381.5 1954.7,381.5 1957.7,381.5 1960.7,381.5 1963.8,381.5 1966.8,381.5 1969.8,381.5 1972.8,381.5 1975.8,381.5 1978.8,381.5 1981.8,381.5 1984.8,381.5 1987.8,381.5 1990.8,381.4 1993.8,381.4 1996.9,381.4 1999.9,381.4 2002.9,381.4 2005.9,381.4 2008.9,381.4 2011.9,381.4 2014.9,381.4 2017.9,381.4 2020.9,381.4 2023.9,381.4 2026.9,381.4 2030.0,381.4 2033.0,381.4 2036.0,381.4 2039.0,381.4 2042.0,381.4 2045.0,381.4 2048.0,381.4 2051.0,381.4 2054.0,381.4 2057.0,381.4 2060.0,381.3 2063.0,381.3 2066.1,381.3 2069.1,381.3 2072.1,381.3 2075.1,381.3 2078.1,381.3 2081.1,381.3 2084.1,381.3 2087.1,381.3 2090.1,381.3 2093.1,381.3 2096.1,381.3 2099.2,381.3 2102.2,381.3 2105.2,381.3 2108.2,381.3 2111.2,381.3 2114.2,381.2 2117.2,381.2 2120.2,381.2 2123.2,381.2 2126.2,381.2 2129.2,381.2 2132.3,381.2 2135.3,381.2 2138.3,381.2 2141.3,381.2 2144.3,381.2 2147.3,381.2 2150.3,381.2 2153.3,381.2 2156.3,381.2 2159.3,381.2 2162.3,381.2 2165.4,381.1 2168.4,381.1 2171.4,381.1 2174.4,381.1 2177.4,381.1 2180.4,381.1 2183.4,381.1 2186.4,381.1 2189.4,381.1 2192.4,381.1 2195.4,381.1 2198.4,381.1 2201.5,381.1 2204.5,381.1 2207.5,381.1 2210.5,381.1 2213.5,381.0 2216.5,381.0" stroke="#000080"/>
<path d="M308.9,373.0 311.9,373.1 314.9,373.1 317.9,373.1 320.9,373.1 323.9,373.1 327.0,373.1 330.0,373.1 333.0,373.2 336.0,373.2 339.0,373.2 342.0,373.2 345.0,373.2 348.0,373.2 351.0,373.2 354.0,373.3 357.1,373.3 360.1,373.3 363.1,373.3 366.1,373.3 369.1,373.3 372.1,373.3 375.1,373.4 378.1,373.4 381.1,373.4 384.1,373.4 387.1,373.4 390.2,373.4 393.2,373.5 396.2,373.5 399.2,373.5 402.2,373.5 405.2,373.5 408.2,373.5 411.2,373.6 414.2,373.6 417.2,373.6 420.2,373.6 423.2,373.6 426.2,373.7 429.3,373.7 432.3,373.7 435.3,373.7 438.3,373.7 441.3,373.7 444.3,373.8 447.3,373.8 450.3,373.8 453.3,373.8 456.3,373.8 459.3,373.9 462.3,373.9 465.3,373.9 468.3,373.9 471.3,374.0 474.3,374.0 477.4,374.0 480.4,374.0 483.4,374.0 486.4,374.1 489.4,374.1 492.4,374.1 495.4,374.1 498.4,374.2 501.4,374.2 504.4,374.2 507.4,374.2 510.4,374.2 513.4,374.3 516.4,374.3 519.4,374.3 522.4,374.3 525.4,374.4 528.4,374.4 531.4,374.4 534.4,374.4 537.5,374.5 540.5,374.5 543.5,374.5 546.5,374.6 549.5,374.6 552.5,374.6 555.5,374.6 558.5,374.7 561.5,374.7 564.5,374.7 567.5,374.8 570.5,374.8 573.5,374.8 576.5,374.8 579.5,374.9 582.5,374.9 585.5,374.9 588.5,375.0 591.5,375.0 594.5,375.0 597.5,375.1 600.5,375.1 603.5,375.1 606.5,375.2 609.5,375.2 612.5,375.2 615.5,375.3 618.5,375.3 621.5,375.3 624.5,375.4 627.6,375.4 630.6,375.4 633.6,375.5 636.6,375.5 639.6,375.5 642.6,375.6 645.6,375.6 648.6,375.6 651.6,375.7 654.6,375.7 657.6,375.8 660.6,375.8 663.6,375.8 666.6,375.9 669.6,375.9 672.6,376.0 675.6,376.0 678.6,376.0 681.6,376.1 684.6,376.1 687.6,376.2 690.6,376.2 693.6,376.3 696.6,376.3 699.6,376.3 702.6,376.4 705.6,376.4 708.6,376.5 711.6,376.5 714.6,376.6 717.6,376.6 720.6,376.7 723.6,376.7 726.6,376.7 729.6,376.8 732.6,376.8 735.6,376.9 738.6,376.9 741.6,377.0 744.6,377.0 747.6,377.1 750.6,377.1 753.6,377.2 756.6,377.2 759.6,377.3 762.6,377.3 765.6,377.4 768.6,377.4 771.6,377.5 774.6,377.5 777.6,377.6 780.6,377.7 783.6,377.7 786.6,377.8 789.6,377.8 792.6,377.9 795.6,377.9 798.6,378.0 801.6,378.0 804.6,378.1 807.6,378.2 810.6,378.2 813.6,378.3 816.6,378.3 819.6,378.4 822.6,378.5 825.6,378.5 828.6,378.6 831.6,378.6 834.6,378.7 837.6,378.8 840.6,378.8 843.6,378.9 846.6,379.0 849.6,379.0 852.6,379.1 855.6,379.2 858.6,379.2 861.6,379.3 864.6,379.4 867.6,379.4 870.6,379.5 873.6,379.6 876.6,379.6 879.6,379.7 882.6,379.8 885.6,379.8 888.6,379.9 891.6,380.0 894.6,380.1 897.6,380.1 900.6,380.2 903.6,380.3 906.6,380.3 909.6,380.4 912.6,380.5 915.6,380.6 918.6,380.6 921.6,380.7 924.6,380.8 927.6,380.9 930.6,381.0 933.6,381.0 936.6,381.1 939.6,381.2 942.6,381.3 945.6,381.4 948.6,381.4 951.6,381.5 954.6,381.6 957.6,381.7 960.6,381.8 963.6,381.9 966.6,381.9 969.6,382.0 972.6,382.1 975.6,382.2 978.6,382.3 981.6,382.4 984.6,382.5 987.6,382.6 990.6,382.6 993.6,382.7 996.6,382.8 999.6,382.9 1002.6,383.0 1005.6,383.1 1008.6,383.2 1011.6,383.3 1014.6,383.4 1017.6,383.5 1020.6,383.6 1023.6,383.7 1026.6,383.8 1029.6,383.9 1032.6,384.0 1035.6,384.1 1038.6,384.2 1041.6,384.3 1044.6,384.4 1047.6,384.5 1050.6,384.6 1053.7,384.7 1056.7,384.8 1059.7,384.9 1062.7,385.0 1065.7,385.1 1068.7,385.2 1071.7,385.3 1074.7,385.4 1077.7,385.5 1080.7,385.6 1083.7,385.7 1086.7,385.8 1089.7,385.9 1092.7,386.1 1095.7,386.2 1098.7,386.3 1101.7,386.4 1104.7,386.5 1107.7,386.6 1110.7,386.7 1113.7,386.9 1116.7,387.0 1119.7,387.1 1122.7,387.2 1125.7,387.3 1128.7,387.4 1131.7,387.6 1134.7,387.7 1137.7,387.8 1140.7,387.9 1143.7,388.0 1146.7,388.2 1149.7,388.3 1152.7,388.4 1155.7,388.5 1158.7,388.7 1161.7,388.8 1164.7,388.9 1167.7,389.0 1170.7,389.2 1173.7,389.3 1176.7,389.4 1179.7,389.6 1182.7,389.7 1185.7,389.8 1188.7,390.0 1191.7,390.1 1194.7,390.2 1197.7,390.4 1200.8,390.5 1203.8,390.6 1206.8,390.8 1209.8,390.9 1212.8,391.1 1215.8,391.2 1218.8,391.3 1221.8,391.5 1224.8,391.6 1227.8,391.8 1230.8,391.9 1233.8,392.0 1236.8,392.2 1239.8,392.3 1242.8,392.5 1245.8,392.6 1248.8,392.8 1251.8,392.9 1254.8,393.1 1257.8,393.2 1260.8,393.4 1263.8,393.5 1266.8,393.7 1269.8,393.8 1272.9,394.0 1275.9,394.1 1278.9,394.3 1281.9,394.5 1284.9,394.6 1287.9,394.8 1290.9,394.9 1293.9,395.1 1296.9,395.3 1299.9,395.4 1302.9,395.6 1305.9,395.7 1308.9,395.9 1311.9,396.1 1314.9,396.2 1317.9,396.4 1320.9,396.6 1323.9,396.7 1327.0,396.9 1330.0,397.1 1333.0,397.2 1336.0,397.4 1339.0,397.6 1342.0,397.8 1345.0,397.9 1348.0,398.1 1351.0,398.3 1354.0,398.5 1357.0,398.6 1360.0,398.8 1363.0,399.0 1366.0,399.2 1369.1,399.4 1372.1,399.5 1375.1,399.7 1378.1,399.9 1381.1,400.1 1384.1,400.3 1387.1,400.5 1390.1,400.6 1393.1,400.8 1396.1,401.0 1399.1,401.2 1402.1,401.4 1405.2,401.6 1408.2,401.8 1411.2,402.0 1414.2,402.2 1417.2,402.4 1420.2,402.6 1423.2,402.8 1426.2,403.0 1429.2,403.2 1432.2,403.4 1435.2,403.6 1438.2,403.9 1441.2,404.1 1444.2,404.3 1447.2,404.6 1450.2,404.8 1453.2,405.1 1456.2,405.4 1459.2,405.6 1462.2,405.9 1465.2,406.2 1468.2,406.5 1471.2,406.8 1474.2,407.1 1477.2,407.4 1480.1,407.8 1483.1,408.1 1486.1,408.5 1489.1,408.9 1492.0,409.2 1495.0,409.6 1498.0,410.0 1500.9,410.4 1503.9,410.9 1506.9,411.3 1509.8,411.8 1512.8,412.2 1515.7,412.7 1518.7,413.2 1521.6,413.7 1524.5,414.3 1527.5,414.8 1530.4,415.4 1533.3,416.0 1536.3,416.5 1539.2,417.2 1542.1,417.8 1545.0,418.4 1547.9,419.1 1550.8,419.8 1553.7,420.5 1556.6,421.2 1559.5,422.0 1562.4,422.7 1565.3,423.5 1568.2,424.3 1571.0,425.1 1573.9,426.0 1576.8,426.9 1579.6,427.7 1582.5,428.7 1585.3,429.6 1588.1,430.6 1590.9,431.6 1593.7,432.8 1596.4,434.0 1599.0,435.2 1601.6,436.6 1604.2,438.1 1606.6,439.7 1609.0,441.4 1611.3,443.2 1613.6,445.1 1615.7,447.1 1617.8,449.2 1619.8,451.3 1621.8,453.5 1623.6,455.8 1625.4,458.2 1627.2,460.6 1628.8,463.1 1630.4,465.6 1632.0,468.2 1633.4,470.8 1634.8,473.5 1636.2,476.2 1637.5,478.9 1638.8,481.7 1640.0,484.6 1641.1,487.4 1642.2,490.3 1643.3,493.2 1644.3,496.1 1645.3,499.1 1646.3,502.0 1647.2,505.0 1648.1,508.0 1648.9,511.0 1649.8,514.0 1650.6,517.0 1651.3,520.0 1652.1,523.0 1652.9,526.0 1653.6,529.0 1654.3,531.9 1655.0,534.9 1655.7,537.8 1656.3,540.8 1657.0,543.7 1657.6,546.6 1658.2,549.5 1658.9,552.5 1659.5,555.4 1660.1,558.3 1660.6,561.2 1661.2,564.1 1661.8,567.0 1662.3,569.9 1662.9,572.8 1663.4,575.7 1664.0,578.6 1664.5,581.5 1665.0,584.4 1665.5,587.3 1666.0,590.2 1666.5,593.1 1667.0,596.0 1667.5,598.9 1668.0,601.8 1668.5,604.8 1669.0,607.7 1669.5,610.6 1670.0,613.6 1670.4,616.5 1670.9,619.5 1671.4,622.4 1671.8,625.4 1672.3,628.3 1672.8,631.3 1673.2,634.2 1673.7,637.2 1674.1,640.2 1674.5,643.2 1675.0,646.1 1675.4,649.1 1675.8,652.1 1676.3,655.1 1676.7,658.1 1677.1,661.0 1677.5,664.0 1677.9,667.0 1678.3,670.0 1678.7,673.0 1679.1,676.0 1679.5,679.0 1679.9,682.0 1680.3,685.0 1680.7,688.0 1681.1,691.0 1681.4,694.0 1681.8,697.0 1682.2,700.0 1682.5,703.0 1682.9,706.0 1683.2,709.0 1683.6,712.1 1683.9,715.1 1684.3,718.1 1684.6,721.1 1684.9,724.1 1685.3,727.1 1685.6,730.1 1685.9,733.1 1686.3,736.1 1686.6,739.1 1686.9,742.1 1687.2,745.1 1687.5,748.1 1687.8,751.1 1688.1,754.1 1688.4,757.1 1688.7,760.1 1689.0,763.1 1689.2,766.1 1689.5,769.1 1689.8,772.1 1690.1,775.1 1690.3,778.1 1690.6,781.1 1690.9,784.0 1691.2,787.0 1691.4,790.0 1691.7,793.0 1692.0,796.0 1692.3,799.0 1692.5,801.9 1692.8,804.9 1693.1,807.9 1693.4,810.9 1693.7,813.8 1694.0,816.8 1694.3,819.8 1694.6,822.7 1694.9,825.7 1695.2,828.7 1695.5,831.6 1695.8,834.6 1696.2,837.6 1696.5,840.5 1696.8,843.5 1697.2,846.5 1697.6,849.4 1697.9,852.4 1698.3,855.3 1698.7,858.3 1699.1,861.2 1699.5,864.2 1699.9,867.2 1700.3,870.1 1700.8,873.1 1701.2,876.0 1701.7,879.0 1702.2,881.9 1702.7,884.9 1703.2,887.8 1703.7,890.7 1704.2,893.7 1704.8,896.6 1705.3,899.6 1705.9,902.5 1706.5,905.5 1707.1,908.4 1707.8,911.3 1708.4,914.3 1709.1,917.2 1709.7,920.2 1710.4,923.1 1711.1,926.0 1711.9,929.0 1712.6,931.9 1713.4,934.8 1714.2,937.7 1715.0,940.7 1715.8,943.6 1716.7,946.5 1717.6,949.4 1718.5,952.3 1719.4,955.2 1720.3,958.1 1721.3,961.0 1722.2,963.8 1723.2,966.7 1724.3,969.5 1725.3,972.4 1726.4,975.2 1727.5,978.0 1728.6,980.9 1729.8,983.7 1730.9,986.4 1732.1,989.2 1733.3,992.0 1734.6,994.7 1735.8,997.5 1737.1,1000.2 1738.5,1002.9 1739.8,1005.6 1741.2,1008.3 1742.6,1010.9 1744.0,1013.6 1745.5,1016.2 1747.0,1018.8 1748.5,1021.4 1750.0,1023.9 1751.6,1026.5 1753.2,1029.0 1754.8,1031.5 1756.5,1034.0 1758.1,1036.4 1759.9,1038.9 1761.6,1041.3 1763.4,1043.7 1765.2,1046.1 1767.0,1048.4 1768.9,1050.8 1770.8,1053.1 1772.7,1055.4 1774.6,1057.6 1776.5,1059.9 1778.5,1062.1 1780.5,1064.4 1782.5,1066.6 1784.6,1068.8 1786.6,1070.9 1788.7,1073.1 1790.8,1075.3 1792.9,1077.4 1795.0,1079.5 1797.1,1081.6 1799.3,1083.7 1801.5,1085.8 1803.6,1087.9 1805.8,1090.0 1808.0,1092.0 1810.2,1094.1 1812.4,1096.1 1814.7,1098.1 1816.9,1100.1 1819.1,1102.2 1821.4,1104.2 1823.6,1106.2 1825.8,1108.2 1828.1,1110.1 1830.4,1112.1 1832.6,1114.1 1834.9,1116.1 1837.2,1118.0 1839.4,1120.0 1841.7,1122.0 1844.0,1123.9 1846.3,1125.8 1848.6,1127.8 1850.9,1129.7 1853.2,1131.6 1855.5,1133.6 1857.8,1135.5 1860.1,1137.4 1862.5,1139.3 1864.8,1141.2 1867.1,1143.1 1869.4,1145.0 1871.8,1146.8 1874.1,1148.7 1876.5,1150.6 1878.8,1152.5 1881.2,1154.3 1883.5,1156.2 1885.9,1158.1 1888.2,1159.9 1890.6,1161.8 1893.0,1163.6 1895.3,1165.4 1897.7,1167.3 1900.1,1169.1 1902.5,1170.9 1904.8,1172.8 1907.2,1174.6 1909.6,1176.4 1912.0,1178.2 1914.4,1180.0 1916.8,1181.8 1919.2,1183.6 1921.6,1185.4 1924.0,1187.2 1926.4,1189.0 1928.9,1190.8 1931.3,1192.6 1933.7,1194.3 1936.1,1196.1 1938.5,1197.9 1941.0,1199.7 1943.4,1201.4 1945.8,1203.2 1948.3,1205.0 1950.7,1206.7 1953.1,1208.5 1955.6,1210.2 1958.0,1212.0 1960.5,1213.7 1962.9,1215.5 1965.4,1217.2 1967.8,1219.0 1970.3,1220.7 1972.7,1222.4 1975.2,1224.2 1977.7,1225.9 1980.1,1227.6 1982.6,1229.4 1985.1,1231.1 1987.5,1232.8 1990.0,1234.5 1992.5,1236.2 1995.0,1237.9 1997.4,1239.6 1999.9,1241.3 2002.4,1243.0 2004.9,1244.7 2007.4,1246.4 2009.9,1248.1 2012.4,1249.7 2014.9,1251.4 2017.4,1253.0 2019.9,1254.7 2022.5,1256.3 2025.0,1258.0 2027.5,1259.6 2030.0,1261.2 2032.6,1262.9 2035.1,1264.5 2037.6,1266.1 2040.2,1267.7 2042.7,1269.3 2045.3,1270.9 2047.8,1272.5 2050.4,1274.0 2052.9,1275.6 2055.5,1277.1 2058.1,1278.7 2060.7,1280.2 2063.2,1281.8 2065.8,1283.3 2068.4,1284.8 2071.0,1286.3 2073.6,1287.8 2076.2,1289.3 2078.8,1290.8 2081.4,1292.3 2084.0,1293.7 2086.7,1295.2 2089.3,1296.6 2091.9,1298.0 2094.6,1299.5 2097.2,1300.9 2099.9,1302.3 2102.5,1303.7 2105.2,1305.0 2107.8,1306.4 2110.5,1307.8 2113.2,1309.1 2115.9,1310.4 2118.6,1311.8 2121.3,1313.1 2124.0,1314.4 2126.7,1315.7 2129.4,1316.9 2132.1,1318.2 2134.8,1319.5 2137.5,1320.7 2140.3,1321.9 2143.0,1323.1 2145.8,1324.3 2148.5,1325.5 2151.3,1326.7 2154.1,1327.9 2156.8,1329.0 2159.6,1330.2 2162.4,1331.3 2165.2,1332.4 2168.0,1333.5 2170.8,1334.6 2173.6,1335.6 2176.4,1336.7 2179.3,1337.7 2182.1,1338.7 2184.9,1339.7 2187.8,1340.7 2190.7,1341.7 2193.5,1342.7 2196.4,1343.6 2199.3,1344.5 2202.2,1345.5 2205.1,1346.3 2208.0,1347.2 2210.9,1348.1 2213.8,1348.9 2216.7,1349.8" stroke="#f0f"/>
<path d="M309.1,374.7 312.1,374.7 315.1,374.8 318.1,374.9 321.1,375.0 324.1,375.1 327.1,375.2 330.1,375.2 333.1,375.3 336.1,375.4 339.1,375.5 342.0,375.5 345.0,375.6 348.0,375.7 351.0,375.8 354.0,375.8 357.0,375.9 360.0,376.0 363.0,376.0 366.1,376.1 369.1,376.2 372.1,376.2 375.1,376.3 378.1,376.4 381.1,376.4 384.1,376.5 387.1,376.6 390.1,376.6 393.1,376.7 396.1,376.8 399.1,376.8 402.1,376.9 405.1,376.9 408.1,377.0 411.1,377.1 414.1,377.1 417.1,377.2 420.1,377.2 423.1,377.3 426.1,377.4 429.1,377.4 432.1,377.5 435.1,377.5 438.1,377.6 441.1,377.6 444.1,377.7 447.1,377.7 450.1,377.8 453.1,377.9 456.1,377.9 459.1,378.0 462.1,378.0 465.1,378.1 468.1,378.1 471.1,378.2 474.2,378.2 477.2,378.3 480.2,378.3 483.2,378.4 486.2,378.4 489.2,378.5 492.2,378.5 495.2,378.6 498.2,378.6 501.2,378.7 504.2,378.7 507.2,378.7 510.2,378.8 513.2,378.8 516.2,378.9 519.2,378.9 522.2,379.0 525.3,379.0 528.3,379.1 531.3,379.1 534.3,379.2 537.3,379.2 540.3,379.2 543.3,379.3 546.3,379.3 549.3,379.4 552.3,379.4 555.3,379.5 558.3,379.5 561.3,379.6 564.3,379.6 567.3,379.6 570.4,379.7 573.4,379.7 576.4,379.8 579.4,379.8 582.4,379.9 585.4,379.9 588.4,380.0 591.4,380.0 594.4,380.0 597.4,380.1 600.4,380.1 603.4,380.2 606.4,380.2 609.5,380.3 612.5,380.3 615.5,380.3 618.5,380.4 621.5,380.4 624.5,380.5 627.5,380.5 630.5,380.6 633.5,380.6 636.5,380.6 639.5,380.7 642.5,380.7 645.6,380.8 648.6,380.8 651.6,380.9 654.6,380.9 657.6,381.0 660.6,381.0 663.6,381.1 666.6,381.1 669.6,381.1 672.6,381.2 675.6,381.2 678.6,381.3 681.7,381.3 684.7,381.4 687.7,381.4 690.7,381.5 693.7,381.5 696.7,381.6 699.7,381.6 702.7,381.7 705.7,381.7 708.7,381.8 711.7,381.8 714.7,381.9 717.8,381.9 720.8,382.0 723.8,382.0 726.8,382.1 729.8,382.1 732.8,382.2 735.8,382.2 738.8,382.3 741.8,382.3 744.8,382.4 747.8,382.5 750.9,382.5 753.9,382.6 756.9,382.6 759.9,382.7 762.9,382.7 765.9,382.8 768.9,382.9 771.9,382.9 774.9,383.0 777.9,383.0 780.9,383.1 783.9,383.2 787.0,383.2 790.0,383.3 793.0,383.3 796.0,383.4 799.0,383.5 802.0,383.5 805.0,383.6 808.0,383.7 811.0,383.7 814.0,383.8 817.0,383.9 820.0,383.9 823.0,384.0 826.1,384.1 829.1,384.2 832.1,384.2 835.1,384.3 838.1,384.4 841.1,384.4 844.1,384.5 847.1,384.6 850.1,384.7 853.1,384.7 856.1,384.8 859.1,384.9 862.1,385.0 865.1,385.1 868.2,385.1 871.2,385.2 874.2,385.3 877.2,385.4 880.2,385.5 883.2,385.6 886.2,385.6 889.2,385.7 892.2,385.8 895.2,385.9 898.2,386.0 901.2,386.1 904.2,386.2 907.2,386.3 910.2,386.4 913.2,386.5 916.2,386.6 919.3,386.6 922.3,386.7 925.3,386.8 928.3,386.9 931.3,387.0 934.3,387.1 937.3,387.2 940.3,387.3 943.3,387.5 946.3,387.6 949.3,387.7 952.3,387.8 955.3,387.9 958.3,388.0 961.3,388.1 964.3,388.2 967.3,388.3 970.3,388.4 973.3,388.6 976.3,388.7 979.3,388.8 982.3,388.9 985.3,389.0 988.4,389.1 991.4,389.3 994.4,389.4 997.4,389.5 1000.4,389.6 1003.4,389.8 1006.4,389.9 1009.4,390.0 1012.4,390.2 1015.4,390.3 1018.4,390.4 1021.4,390.6 1024.4,390.7 1027.4,390.8 1030.4,391.0 1033.4,391.1 1036.4,391.2 1039.4,391.4 1042.4,391.5 1045.4,391.7 1048.4,391.8 1051.4,392.0 1054.4,392.1 1057.4,392.3 1060.4,392.4 1063.4,392.6 1066.4,392.7 1069.4,392.9 1072.4,393.0 1075.4,393.2 1078.4,393.4 1081.4,393.5 1084.4,393.7 1087.4,393.8 1090.4,394.0 1093.4,394.2 1096.4,394.4 1099.4,394.5 1102.4,394.7 1105.4,394.9 1108.4,395.0 1111.4,395.2 1114.3,395.4 1117.3,395.6 1120.3,395.8 1123.3,395.9 1126.3,396.1 1129.3,396.3 1132.3,396.5 1135.3,396.7 1138.3,396.9 1141.3,397.1 1144.3,397.3 1147.3,397.5 1150.3,397.7 1153.3,397.9 1156.3,398.1 1159.3,398.3 1162.3,398.5 1165.3,398.7 1168.3,398.9 1171.3,399.1 1174.2,399.3 1177.2,399.5 1180.2,399.7 1183.2,399.9 1186.2,400.2 1189.2,400.4 1192.2,400.6 1195.2,400.8 1198.2,401.1 1201.2,401.3 1204.2,401.5 1207.2,401.7 1210.1,402.0 1213.1,402.2 1216.1,402.4 1219.1,402.7 1222.1,402.9 1225.1,403.2 1228.1,403.4 1231.1,403.6 1234.1,403.9 1237.1,404.1 1240.0,404.4 1243.0,404.6 1246.0,404.9 1249.0,405.1 1252.0,405.4 1255.0,405.6 1258.0,405.9 1261.0,406.1 1264.0,406.4 1267.0,406.6 1269.9,406.9 1272.9,407.1 1275.9,407.4 1278.9,407.6 1281.9,407.9 1284.9,408.2 1287.9,408.4 1290.9,408.7 1293.9,408.9 1296.9,409.2 1299.9,409.4 1302.8,409.7 1305.8,410.0 1308.8,410.2 1311.8,410.5 1314.8,410.7 1317.8,411.0 1320.8,411.2 1323.8,411.5 1326.8,411.7 1329.8,412.0 1332.8,412.2 1335.8,412.5 1338.8,412.7 1341.8,413.0 1344.8,413.2 1347.8,413.5 1350.8,413.7 1353.8,414.0 1356.8,414.2 1359.8,414.5 1362.8,414.7 1365.8,414.9 1368.8,415.2 1371.8,415.4 1374.8,415.7 1377.8,415.9 1380.8,416.1 1383.8,416.4 1386.8,416.6 1389.8,416.8 1392.8,417.0 1395.8,417.3 1398.8,417.5 1401.9,417.7 1404.9,417.9 1407.9,418.1 1410.9,418.3 1413.9,418.6 1416.9,418.8 1419.9,419.0 1422.9,419.2 1426.0,419.4 1429.0,419.6 1432.0,419.8 1435.0,420.0 1438.0,420.2 1441.1,420.3 1444.1,420.5 1447.1,420.7 1450.1,420.9 1453.1,421.1 1456.2,421.2 1459.2,421.4 1462.2,421.6 1465.2,421.8 1468.3,422.0 1471.3,422.1 1474.3,422.3 1477.4,422.5 1480.4,422.7 1483.4,422.9 1486.4,423.2 1489.4,423.4 1492.4,423.6 1495.5,423.9 1498.5,424.2 1501.5,424.4 1504.5,424.7 1507.5,425.1 1510.5,425.4 1513.5,425.8 1516.5,426.2 1519.5,426.6 1522.4,427.0 1525.4,427.4 1528.4,427.9 1531.4,428.4 1534.3,429.0 1537.3,429.5 1540.2,430.1 1543.2,430.7 1546.1,431.4 1549.0,432.1 1552.0,432.8 1554.9,433.6 1557.8,434.4 1560.7,435.3 1563.5,436.2 1566.4,437.1 1569.2,438.1 1572.0,439.2 1574.8,440.3 1577.6,441.4 1580.3,442.7 1582.9,444.0 1585.6,445.3 1588.2,446.8 1590.7,448.3 1593.3,449.8 1595.7,451.4 1598.2,453.1 1600.6,454.9 1602.9,456.7 1605.2,458.5 1607.4,460.4 1609.6,462.4 1611.8,464.4 1613.8,466.5 1615.9,468.6 1617.8,470.8 1619.7,473.1 1621.6,475.3 1623.4,477.7 1625.1,480.1 1626.8,482.5 1628.4,485.0 1629.9,487.5 1631.3,490.0 1632.7,492.6 1634.1,495.3 1635.3,498.0 1636.6,500.7 1637.7,503.5 1638.8,506.2 1639.9,509.0 1640.9,511.9 1641.9,514.8 1642.8,517.6 1643.7,520.5 1644.6,523.5 1645.4,526.4 1646.2,529.4 1647.0,532.3 1647.7,535.3 1648.5,538.3 1649.2,541.3 1649.8,544.3 1650.5,547.3 1651.2,550.3 1651.8,553.3 1652.4,556.3 1653.1,559.3 1653.7,562.3 1654.3,565.2 1654.8,568.2 1655.4,571.2 1656.0,574.2 1656.5,577.2 1657.1,580.2 1657.6,583.2 1658.1,586.1 1658.7,589.1 1659.2,592.1 1659.7,595.1 1660.1,598.1 1660.6,601.0 1661.1,604.0 1661.6,607.0 1662.0,610.0 1662.5,613.0 1662.9,615.9 1663.3,618.9 1663.8,621.9 1664.2,624.9 1664.6,627.8 1665.0,630.8 1665.4,633.8 1665.8,636.7 1666.2,639.7 1666.6,642.7 1667.0,645.7 1667.4,648.6 1667.8,651.6 1668.1,654.6 1668.5,657.5 1668.9,660.5 1669.2,663.5 1669.6,666.4 1669.9,669.4 1670.3,672.4 1670.6,675.4 1671.0,678.3 1671.3,681.3 1671.7,684.3 1672.0,687.2 1672.4,690.2 1672.7,693.2 1673.0,696.1 1673.4,699.1 1673.7,702.1 1674.1,705.0 1674.4,708.0 1674.7,711.0 1675.1,713.9 1675.4,716.9 1675.8,719.9 1676.1,722.8 1676.4,725.8 1676.8,728.8 1677.1,731.8 1677.4,734.7 1677.8,737.7 1678.1,740.7 1678.5,743.6 1678.8,746.6 1679.1,749.6 1679.5,752.6 1679.8,755.5 1680.2,758.5 1680.5,761.5 1680.8,764.4 1681.2,767.4 1681.5,770.4 1681.9,773.4 1682.2,776.3 1682.6,779.3 1682.9,782.3 1683.3,785.3 1683.6,788.3 1684.0,791.2 1684.3,794.2 1684.7,797.2 1685.0,800.2 1685.4,803.2 1685.7,806.1 1686.1,809.1 1686.5,812.1 1686.8,815.1 1687.2,818.1 1687.5,821.1 1687.9,824.0 1688.3,827.0 1688.6,830.0 1689.0,833.0 1689.4,836.0 1689.7,839.0 1690.1,842.0 1690.5,845.0 1690.9,848.0 1691.3,851.0 1691.6,854.0 1692.0,856.9 1692.4,859.9 1692.8,862.9 1693.2,865.9 1693.6,868.9 1694.0,871.9 1694.4,874.9 1694.8,878.0 1695.2,881.0 1695.6,884.0 1696.0,887.0 1696.4,890.0 1696.8,893.0 1697.3,896.0 1697.7,899.0 1698.1,902.0 1698.6,905.0 1699.1,908.0 1699.5,911.0 1700.0,914.0 1700.5,916.9 1701.0,919.9 1701.5,922.9 1702.1,925.9 1702.6,928.9 1703.2,931.8 1703.7,934.8 1704.3,937.7 1704.9,940.7 1705.6,943.6 1706.2,946.6 1706.8,949.5 1707.5,952.5 1708.2,955.4 1708.9,958.3 1709.7,961.2 1710.4,964.1 1711.2,967.0 1712.0,969.9 1712.8,972.8 1713.7,975.6 1714.5,978.5 1715.4,981.3 1716.3,984.2 1717.3,987.0 1718.2,989.8 1719.2,992.7 1720.3,995.5 1721.3,998.2 1722.4,1001.0 1723.5,1003.8 1724.7,1006.5 1725.8,1009.3 1727.0,1012.0 1728.2,1014.7 1729.5,1017.4 1730.8,1020.1 1732.1,1022.8 1733.4,1025.5 1734.8,1028.2 1736.1,1030.8 1737.6,1033.5 1739.0,1036.1 1740.4,1038.7 1741.9,1041.3 1743.4,1043.9 1744.9,1046.5 1746.5,1049.0 1748.1,1051.6 1749.6,1054.1 1751.3,1056.7 1752.9,1059.2 1754.5,1061.7 1756.2,1064.2 1757.9,1066.7 1759.6,1069.2 1761.3,1071.6 1763.1,1074.1 1764.9,1076.5 1766.6,1078.9 1768.4,1081.4 1770.3,1083.8 1772.1,1086.1 1773.9,1088.5 1775.8,1090.9 1777.7,1093.2 1779.6,1095.6 1781.5,1097.9 1783.4,1100.2 1785.3,1102.5 1787.3,1104.8 1789.3,1107.1 1791.2,1109.4 1793.2,1111.6 1795.2,1113.9 1797.2,1116.1 1799.3,1118.3 1801.3,1120.5 1803.4,1122.7 1805.4,1124.9 1807.5,1127.1 1809.6,1129.3 1811.7,1131.4 1813.8,1133.6 1815.9,1135.7 1818.0,1137.8 1820.1,1140.0 1822.3,1142.1 1824.4,1144.2 1826.6,1146.3 1828.8,1148.4 1830.9,1150.4 1833.1,1152.5 1835.3,1154.6 1837.5,1156.6 1839.7,1158.7 1841.9,1160.7 1844.2,1162.7 1846.4,1164.7 1848.6,1166.7 1850.9,1168.7 1853.1,1170.7 1855.4,1172.7 1857.7,1174.7 1859.9,1176.7 1862.2,1178.7 1864.5,1180.6 1866.8,1182.6 1869.1,1184.5 1871.4,1186.5 1873.7,1188.4 1876.0,1190.4 1878.3,1192.3 1880.6,1194.2 1882.9,1196.1 1885.2,1198.1 1887.6,1200.0 1889.9,1201.9 1892.2,1203.8 1894.5,1205.7 1896.9,1207.6 1899.2,1209.5 1901.6,1211.4 1903.9,1213.2 1906.2,1215.1 1908.6,1217.0 1910.9,1218.8 1913.3,1220.7 1915.7,1222.6 1918.0,1224.4 1920.4,1226.3 1922.7,1228.1 1925.1,1229.9 1927.5,1231.8 1929.9,1233.6 1932.3,1235.4 1934.6,1237.2 1937.0,1239.0 1939.4,1240.9 1941.8,1242.7 1944.2,1244.4 1946.6,1246.2 1949.0,1248.0 1951.5,1249.8 1953.9,1251.6 1956.3,1253.3 1958.7,1255.1 1961.2,1256.8 1963.6,1258.6 1966.1,1260.3 1968.5,1262.0 1971.0,1263.8 1973.4,1265.5 1975.9,1267.2 1978.4,1268.9 1980.8,1270.6 1983.3,1272.3 1985.8,1274.0 1988.3,1275.7 1990.8,1277.3 1993.3,1279.0 1995.8,1280.7 1998.3,1282.3 2000.8,1284.0 2003.4,1285.6 2005.9,1287.2 2008.4,1288.9 2010.9,1290.5 2013.5,1292.1 2016.0,1293.7 2018.6,1295.3 2021.1,1296.9 2023.7,1298.5 2026.3,1300.0 2028.8,1301.6 2031.4,1303.2 2034.0,1304.7 2036.6,1306.2 2039.2,1307.8 2041.7,1309.3 2044.3,1310.8 2046.9,1312.3 2049.5,1313.8 2052.2,1315.3 2054.8,1316.8 2057.4,1318.3 2060.0,1319.8 2062.6,1321.3 2065.3,1322.7 2067.9,1324.2 2070.6,1325.6 2073.2,1327.0 2075.9,1328.5 2078.5,1329.9 2081.2,1331.3 2083.8,1332.7 2086.5,1334.1 2089.2,1335.4 2091.9,1336.8 2094.5,1338.2 2097.2,1339.5 2099.9,1340.9 2102.6,1342.2 2105.3,1343.6 2108.0,1344.9 2110.7,1346.2 2113.4,1347.5 2116.1,1348.8 2118.9,1350.1 2121.6,1351.3 2124.3,1352.6 2127.0,1353.9 2129.8,1355.1 2132.5,1356.4 2135.3,1357.6 2138.0,1358.8 2140.7,1360.0 2143.5,1361.2 2146.3,1362.4 2149.0,1363.6 2151.8,1364.8 2154.6,1365.9 2157.3,1367.1 2160.1,1368.2 2162.9,1369.4 2165.7,1370.5 2168.5,1371.6 2171.3,1372.7 2174.1,1373.8 2176.9,1374.9 2179.7,1376.0 2182.5,1377.1 2185.3,1378.1 2188.1,1379.2 2190.9,1380.2 2193.7,1381.2 2196.6,1382.2 2199.4,1383.2 2202.2,1384.2 2205.1,1385.2 2207.9,1386.2 2210.7,1387.2 2213.6,1388.1 2216.4,1389.1" stroke="#008000"/>
</g>
<rect x="309.2" y="55.6" width="1907.3" height="1410.4" fill="none" stroke="#000" stroke-width="5.6"/>
<g font-family="'Liberation Sans', Arial, Helvetica, sans-serif">
<text x="192.96" y="1331.6" font-size="77" textLength="84.37" lengthAdjust="spacingAndGlyphs" fill="#000">70</text>
<text x="192.96" y="1018.1" font-size="77" textLength="84.37" lengthAdjust="spacingAndGlyphs" fill="#000">80</text>
<text x="192.96" y="704.6" font-size="77" textLength="84.37" lengthAdjust="spacingAndGlyphs" fill="#000">90</text>
<text x="150.67" y="391.1" font-size="77" textLength="126.55" lengthAdjust="spacingAndGlyphs" fill="#000">100</text>
<text x="152.2" y="77.6" font-size="77" textLength="124.68" lengthAdjust="spacingAndGlyphs" fill="#000">110</text>
<text x="417.64" y="1556.3" font-size="77" textLength="126.55" lengthAdjust="spacingAndGlyphs" fill="#000">100</text>
<text x="707.59" y="1556.3" font-size="77" textLength="126.55" lengthAdjust="spacingAndGlyphs" fill="#000">200</text>
<text x="997.06" y="1556.3" font-size="77" textLength="126.55" lengthAdjust="spacingAndGlyphs" fill="#000">300</text>
<text x="1286.63" y="1556.3" font-size="77" textLength="126.55" lengthAdjust="spacingAndGlyphs" fill="#000">400</text>
<text x="1574.97" y="1556.3" font-size="77" textLength="126.55" lengthAdjust="spacingAndGlyphs" fill="#000">500</text>
<text x="1863.59" y="1556.3" font-size="77" textLength="126.55" lengthAdjust="spacingAndGlyphs" fill="#000">600</text>
<text x="2152.5" y="1556.3" font-size="77" textLength="126.55" lengthAdjust="spacingAndGlyphs" fill="#000">700</text>
<text x="966.69" y="1685.2" font-size="77.5" textLength="591.91" lengthAdjust="spacingAndGlyphs" fill="#000">Temperature (°C)</text>
<text transform="rotate(-90)" x="-1078.28" y="94.4" font-size="77" textLength="536.9" lengthAdjust="spacingAndGlyphs" fill="#000">Weight loss (%)</text>
</g>
<rect x="391.2" y="87" width="1697.4" height="234.6" fill="none" stroke="#2e2e2e" stroke-width="3.2"/>
<g stroke-width="5.6" fill="none">
<line x1="479" y1="161" x2="638" y2="161" stroke="#000"/>
<line x1="952" y1="161" x2="1110" y2="161" stroke="#f00"/>
<line x1="1344.4" y1="161.2" x2="1503.6" y2="161.2" stroke="#000080"/>
<line x1="479" y1="265.6" x2="638" y2="265.6" stroke="#f0f"/>
<line x1="1205.5" y1="266.2" x2="1365.2" y2="266.2" stroke="#008000"/>
</g>
<g font-family="'Liberation Sans', Arial, Helvetica, sans-serif">
<text x="652.72" y="184.4" font-size="70" textLength="46.72" lengthAdjust="spacingAndGlyphs" fill="#000">K</text>
<text x="699.64" y="208.5" font-size="43" textLength="25.18" lengthAdjust="spacingAndGlyphs" fill="#000">2</text>
<text x="720.74" y="184.4" font-size="70" textLength="48.98" lengthAdjust="spacingAndGlyphs" fill="#000">B</text>
<text x="769.16" y="208.5" font-size="43" textLength="48.11" lengthAdjust="spacingAndGlyphs" fill="#000">12</text>
<text x="814.11" y="184.4" font-size="70" textLength="52.46" lengthAdjust="spacingAndGlyphs" fill="#000">H</text>
<text x="865.92" y="208.5" font-size="43" textLength="45.62" lengthAdjust="spacingAndGlyphs" fill="#000">12</text>
<text x="920.61" y="184.4" font-size="70" textLength="22.51" lengthAdjust="spacingAndGlyphs" fill="#000">;</text>
<text x="1124.57" y="184.4" font-size="70" textLength="204.36" lengthAdjust="spacingAndGlyphs" fill="#000">PIM-1;</text>
<text x="1518.84" y="184.4" font-size="70" textLength="266.93" lengthAdjust="spacingAndGlyphs" fill="#000">PIM1-5K</text>
<text x="1786.28" y="208.5" font-size="43" textLength="24.69" lengthAdjust="spacingAndGlyphs" fill="#000">2</text>
<text x="1808.67" y="184.4" font-size="70" textLength="47.1" lengthAdjust="spacingAndGlyphs" fill="#000">B</text>
<text x="1856.92" y="208.5" font-size="43" textLength="45.74" lengthAdjust="spacingAndGlyphs" fill="#000">12</text>
<text x="1900.31" y="184.4" font-size="70" textLength="52.46" lengthAdjust="spacingAndGlyphs" fill="#000">H</text>
<text x="1951.61" y="208.5" font-size="43" textLength="47.32" lengthAdjust="spacingAndGlyphs" fill="#000">12</text>
<text x="2005.42" y="184.4" font-size="70" textLength="26.79" lengthAdjust="spacingAndGlyphs" fill="#000">;</text>
<text x="653.15" y="288.7" font-size="70" textLength="304.43" lengthAdjust="spacingAndGlyphs" fill="#000">PIM1-10K</text>
<text x="958" y="311.8" font-size="43" textLength="25.55" lengthAdjust="spacingAndGlyphs" fill="#000">2</text>
<text x="981.17" y="288.7" font-size="70" textLength="47.1" lengthAdjust="spacingAndGlyphs" fill="#000">B</text>
<text x="1029.57" y="311.8" font-size="43" textLength="44.95" lengthAdjust="spacingAndGlyphs" fill="#000">12</text>
<text x="1072.21" y="288.7" font-size="70" textLength="52.46" lengthAdjust="spacingAndGlyphs" fill="#000">H</text>
<text x="1124.1" y="311.8" font-size="43" textLength="47.43" lengthAdjust="spacingAndGlyphs" fill="#000">12</text>
<text x="1166.23" y="288.7" font-size="70" textLength="27.07" lengthAdjust="spacingAndGlyphs" fill="#000">;</text>
<text x="1378.82" y="288.7" font-size="70" textLength="305.86" lengthAdjust="spacingAndGlyphs" fill="#000">PIM1-20K</text>
<text x="1684.5" y="311.8" font-size="43" textLength="25.55" lengthAdjust="spacingAndGlyphs" fill="#000">2</text>
<text x="1706.87" y="288.7" font-size="70" textLength="47.97" lengthAdjust="spacingAndGlyphs" fill="#000">B</text>
<text x="1755.26" y="311.8" font-size="43" textLength="46.53" lengthAdjust="spacingAndGlyphs" fill="#000">12</text>
<text x="1800.21" y="288.7" font-size="70" textLength="51.56" lengthAdjust="spacingAndGlyphs" fill="#000">H</text>
<text x="1851.52" y="311.8" font-size="43" textLength="45.74" lengthAdjust="spacingAndGlyphs" fill="#000">12</text>
</g>
<g fill="none" stroke-width="3.2" stroke-linejoin="round">
<path d="M506.9,591.4 509.8,592.4 512.6,593.3 515.5,594.3 518.3,595.3 521.1,596.3 524.0,597.3 526.8,598.3 529.7,599.3 532.5,600.3 535.4,601.3 538.2,602.3 541.0,603.3 543.9,604.2 546.7,605.2 549.6,606.2 552.4,607.2 555.2,608.2 558.1,609.2 560.9,610.2 563.8,611.1 566.6,612.1 569.5,613.1 572.3,614.1 575.2,615.1 578.0,616.1 580.8,617.0 583.7,618.0 586.5,619.0 589.4,620.0 592.2,621.0 595.1,621.9 597.9,622.9 600.8,623.9 603.6,624.9 606.4,625.8 609.3,626.8 612.1,627.8 615.0,628.8 617.8,629.7 620.7,630.7 623.5,631.7 626.4,632.7 629.2,633.6 632.1,634.6 634.9,635.6 637.8,636.5 640.6,637.5 643.5,638.5 646.3,639.4 649.2,640.4 652.0,641.4 654.9,642.3 657.7,643.3 660.6,644.3 663.4,645.2 666.3,646.2 669.1,647.2 672.0,648.1 674.8,649.1 677.7,650.1 680.5,651.0 683.4,652.0 686.2,652.9 689.1,653.9 691.9,654.9 694.8,655.8 697.6,656.8 700.5,657.7 703.3,658.7 706.2,659.6 709.0,660.6 711.9,661.6 714.7,662.5 717.6,663.5 720.4,664.4 723.3,665.4 726.1,666.3 729.0,667.3 731.9,668.2 734.7,669.2 737.6,670.1 740.4,671.1 743.3,672.0 746.1,673.0 749.0,673.9 751.8,674.9 754.7,675.8 757.6,676.8 760.4,677.7 763.3,678.7 766.1,679.6 769.0,680.5 771.8,681.5 774.7,682.4 777.6,683.4 780.4,684.3 783.3,685.3 786.1,686.2 789.0,687.1 791.8,688.1 794.7,689.0 797.6,690.0 800.4,690.9 803.3,691.8 806.1,692.8 809.0,693.7 811.9,694.6 814.7,695.6 817.6,696.5 820.4,697.5 823.3,698.4 826.2,699.3 829.0,700.2 831.9,701.2 834.7,702.1 837.6,703.0 840.5,704.0 843.3,704.9 846.2,705.8 849.0,706.8 851.9,707.7 854.8,708.6 857.6,709.5 860.5,710.5 863.4,711.4 866.2,712.3 869.1,713.2 871.9,714.2 874.8,715.1 877.7,716.0 880.5,716.9 883.4,717.9 886.3,718.8 889.1,719.7 892.0,720.6 894.9,721.5 897.7,722.5 900.6,723.4 903.5,724.3 906.3,725.2 909.2,726.1 912.0,727.0 914.9,728.0 917.8,728.9 920.6,729.8 923.5,730.7 926.4,731.6 929.2,732.5 932.1,733.4 935.0,734.4 937.9,735.3 940.7,736.2 943.6,737.1 946.5,738.0 949.3,738.9 952.2,739.8 955.1,740.7 957.9,741.6 960.8,742.5 963.7,743.4 966.5,744.3 969.4,745.3 972.3,746.2 975.1,747.1 978.0,748.0 980.9,748.9 983.8,749.8 986.6,750.7 989.5,751.6 992.4,752.5 995.2,753.4 998.1,754.3 1001.0,755.2 1003.9,756.1 1006.7,757.0 1009.6,757.9 1012.5,758.8 1015.3,759.7 1018.2,760.5 1021.1,761.4 1024.0,762.3 1026.8,763.2 1029.7,764.1 1032.6,765.0 1035.5,765.9 1038.3,766.8 1041.2,767.7 1044.1,768.6 1046.9,769.5 1049.8,770.4 1052.7,771.2 1055.6,772.1 1058.4,773.0 1061.3,773.9 1064.2,774.8 1067.1,775.7 1069.9,776.6 1072.8,777.4 1075.7,778.3 1078.6,779.2 1081.5,780.1 1084.3,781.0 1087.2,781.9 1090.1,782.7 1093.0,783.6 1095.8,784.5 1098.7,785.4 1101.6,786.3 1104.5,787.1 1107.4,788.0 1110.2,788.9 1113.1,789.8 1116.0,790.6 1118.9,791.5 1121.7,792.4 1124.6,793.3 1127.5,794.1 1130.4,795.0 1133.3,795.9 1136.1,796.8 1139.0,797.6 1141.9,798.5 1144.8,799.4 1147.7,800.2 1150.5,801.1 1153.4,802.0 1156.3,802.8 1159.2,803.7 1162.1,804.6 1164.9,805.4 1167.8,806.3 1170.7,807.2 1173.6,808.0 1176.5,808.9 1179.4,809.8 1182.2,810.6 1185.1,811.5 1188.0,812.3 1190.9,813.2 1193.8,814.1 1196.7,814.9 1199.5,815.8 1202.4,816.6 1205.3,817.5 1208.2,818.3 1211.1,819.2 1214.0,820.1 1216.8,820.9 1219.7,821.8 1222.6,822.6 1225.5,823.5 1228.4,824.3 1231.3,825.2 1234.2,826.0 1237.0,826.9 1239.9,827.7 1242.8,828.6 1245.7,829.4 1248.6,830.3 1251.5,831.1 1254.4,832.0 1257.2,832.8 1260.1,833.7 1263.0,834.5 1265.9,835.4 1268.8,836.2 1271.7,837.1 1274.6,837.9 1277.5,838.7 1280.4,839.6 1283.2,840.4 1286.1,841.3 1289.0,842.1 1291.9,842.9 1294.8,843.8 1297.7,844.6 1300.6,845.5 1303.5,846.3 1306.4,847.1 1309.2,848.0 1312.1,848.8 1315.0,849.6 1317.9,850.5 1320.8,851.3 1323.7,852.1 1326.6,853.0 1329.5,853.8 1332.4,854.6 1335.3,855.5 1338.2,856.3 1341.0,857.1 1343.9,858.0 1346.8,858.8 1349.7,859.6 1352.6,860.4 1355.5,861.3 1358.4,862.1 1361.3,862.9 1364.2,863.8 1367.1,864.6 1370.0,865.4 1372.9,866.2 1375.8,867.0 1378.7,867.9 1381.6,868.7 1384.5,869.5 1387.3,870.3 1390.2,871.2 1393.1,872.0 1396.0,872.8 1398.9,873.6 1401.8,874.4 1404.7,875.2 1407.6,876.1 1410.5,876.9 1413.4,877.7 1416.3,878.5 1419.2,879.3 1422.1,880.1 1425.0,880.9 1427.9,881.8 1430.8,882.6 1433.7,883.4 1436.6,884.2 1439.5,885.0 1442.4,885.8 1445.3,886.6 1448.2,887.4 1451.1,888.2 1454.0,889.0 1456.9,889.8 1459.8,890.6 1462.7,891.5 1465.6,892.3 1468.5,893.1 1471.4,893.9 1474.3,894.7 1477.2,895.5 1480.1,896.3 1483.0,897.1 1485.9,897.9 1488.8,898.7 1491.7,899.5 1494.6,900.3 1497.5,901.1 1500.4,901.9 1503.3,902.7 1506.2,903.5 1509.1,904.3 1512.0,905.0 1514.9,905.8 1517.8,906.6 1520.7,907.4 1523.6,908.2 1526.5,909.0 1529.4,909.8 1532.3,910.6 1535.2,911.4 1538.1,912.2 1541.0,913.0" stroke="#f00"/>
<path d="M507.0,611.7 509.9,612.6 512.7,613.6 515.6,614.6 518.4,615.6 521.3,616.6 524.1,617.5 527.0,618.5 529.8,619.5 532.7,620.5 535.5,621.4 538.4,622.4 541.2,623.4 544.1,624.4 546.9,625.3 549.8,626.3 552.7,627.3 555.5,628.2 558.4,629.2 561.2,630.2 564.1,631.2 566.9,632.1 569.8,633.1 572.6,634.1 575.5,635.0 578.3,636.0 581.2,637.0 584.0,638.0 586.9,638.9 589.7,639.9 592.6,640.9 595.5,641.8 598.3,642.8 601.2,643.8 604.0,644.7 606.9,645.7 609.7,646.7 612.6,647.6 615.4,648.6 618.3,649.6 621.2,650.5 624.0,651.5 626.9,652.5 629.7,653.4 632.6,654.4 635.4,655.4 638.3,656.3 641.1,657.3 644.0,658.3 646.9,659.2 649.7,660.2 652.6,661.2 655.4,662.1 658.3,663.1 661.1,664.0 664.0,665.0 666.9,666.0 669.7,666.9 672.6,667.9 675.4,668.9 678.3,669.8 681.1,670.8 684.0,671.7 686.9,672.7 689.7,673.7 692.6,674.6 695.4,675.6 698.3,676.5 701.2,677.5 704.0,678.4 706.9,679.4 709.7,680.4 712.6,681.3 715.5,682.3 718.3,683.2 721.2,684.2 724.0,685.1 726.9,686.1 729.8,687.0 732.6,688.0 735.5,688.9 738.3,689.9 741.2,690.8 744.1,691.8 746.9,692.7 749.8,693.7 752.6,694.6 755.5,695.6 758.4,696.5 761.2,697.5 764.1,698.4 766.9,699.4 769.8,700.3 772.7,701.3 775.5,702.2 778.4,703.2 781.3,704.1 784.1,705.1 787.0,706.0 789.9,707.0 792.7,707.9 795.6,708.8 798.4,709.8 801.3,710.7 804.2,711.7 807.0,712.6 809.9,713.6 812.8,714.5 815.6,715.4 818.5,716.4 821.4,717.3 824.2,718.3 827.1,719.2 830.0,720.1 832.8,721.1 835.7,722.0 838.5,722.9 841.4,723.9 844.3,724.8 847.1,725.8 850.0,726.7 852.9,727.6 855.7,728.6 858.6,729.5 861.5,730.4 864.3,731.4 867.2,732.3 870.1,733.2 873.0,734.1 875.8,735.1 878.7,736.0 881.6,736.9 884.4,737.9 887.3,738.8 890.2,739.7 893.0,740.6 895.9,741.6 898.8,742.5 901.6,743.4 904.5,744.4 907.4,745.3 910.2,746.2 913.1,747.1 916.0,748.0 918.9,749.0 921.7,749.9 924.6,750.8 927.5,751.7 930.3,752.7 933.2,753.6 936.1,754.5 939.0,755.4 941.8,756.3 944.7,757.2 947.6,758.2 950.4,759.1 953.3,760.0 956.2,760.9 959.1,761.8 961.9,762.7 964.8,763.6 967.7,764.6 970.6,765.5 973.4,766.4 976.3,767.3 979.2,768.2 982.1,769.1 984.9,770.0 987.8,770.9 990.7,771.8 993.6,772.7 996.4,773.7 999.3,774.6 1002.2,775.5 1005.1,776.4 1007.9,777.3 1010.8,778.2 1013.7,779.1 1016.6,780.0 1019.4,780.9 1022.3,781.8 1025.2,782.7 1028.1,783.6 1030.9,784.5 1033.8,785.4 1036.7,786.3 1039.6,787.2 1042.5,788.1 1045.3,789.0 1048.2,789.9 1051.1,790.8 1054.0,791.7 1056.9,792.6 1059.7,793.4 1062.6,794.3 1065.5,795.2 1068.4,796.1 1071.3,797.0 1074.1,797.9 1077.0,798.8 1079.9,799.7 1082.8,800.6 1085.7,801.4 1088.5,802.3 1091.4,803.2 1094.3,804.1 1097.2,805.0 1100.1,805.9 1103.0,806.8 1105.8,807.6 1108.7,808.5 1111.6,809.4 1114.5,810.3 1117.4,811.2 1120.3,812.0 1123.1,812.9 1126.0,813.8 1128.9,814.7 1131.8,815.5 1134.7,816.4 1137.6,817.3 1140.4,818.2 1143.3,819.0 1146.2,819.9 1149.1,820.8 1152.0,821.6 1154.9,822.5 1157.8,823.4 1160.6,824.3 1163.5,825.1 1166.4,826.0 1169.3,826.9 1172.2,827.7 1175.1,828.6 1178.0,829.4 1180.9,830.3 1183.8,831.2 1186.6,832.0 1189.5,832.9 1192.4,833.8 1195.3,834.6 1198.2,835.5 1201.1,836.3 1204.0,837.2 1206.9,838.0 1209.8,838.9 1212.7,839.8 1215.5,840.6 1218.4,841.5 1221.3,842.3 1224.2,843.2 1227.1,844.0 1230.0,844.9 1232.9,845.7 1235.8,846.6 1238.7,847.4 1241.6,848.3 1244.5,849.1 1247.4,849.9 1250.3,850.8 1253.1,851.6 1256.0,852.5 1258.9,853.3 1261.8,854.2 1264.7,855.0 1267.6,855.8 1270.5,856.7 1273.4,857.5 1276.3,858.3 1279.2,859.2 1282.1,860.0 1285.0,860.9 1287.9,861.7 1290.8,862.5 1293.7,863.4 1296.6,864.2 1299.5,865.0 1302.4,865.8 1305.3,866.7 1308.2,867.5 1311.1,868.3 1314.0,869.1 1316.9,870.0 1319.8,870.8 1322.7,871.6 1325.6,872.4 1328.5,873.3 1331.4,874.1 1334.3,874.9 1337.2,875.7 1340.1,876.5 1343.0,877.4 1345.9,878.2 1348.8,879.0 1351.7,879.8 1354.6,880.6 1357.5,881.4 1360.4,882.2 1363.3,883.1 1366.2,883.9 1369.1,884.7 1372.0,885.5 1374.9,886.3 1377.8,887.1 1380.7,887.9 1383.6,888.7 1386.5,889.5 1389.5,890.3 1392.4,891.1 1395.3,891.9 1398.2,892.7 1401.1,893.5 1404.0,894.3 1406.9,895.1 1409.8,895.9 1412.7,896.7 1415.6,897.5 1418.5,898.3 1421.4,899.1 1424.3,899.9 1427.3,900.7 1430.2,901.4 1433.1,902.2 1436.0,903.0 1438.9,903.8 1441.8,904.6 1444.7,905.4 1447.6,906.2 1450.5,906.9 1453.4,907.7 1456.4,908.5 1459.3,909.3 1462.2,910.1 1465.1,910.8 1468.0,911.6 1470.9,912.4 1473.8,913.2 1476.7,913.9 1479.7,914.7 1482.6,915.5 1485.5,916.3 1488.4,917.0 1491.3,917.8 1494.2,918.6 1497.2,919.3 1500.1,920.1 1503.0,920.9 1505.9,921.6 1508.8,922.4 1511.7,923.1 1514.7,923.9 1517.6,924.7 1520.5,925.4 1523.4,926.2 1526.3,926.9 1529.2,927.7 1532.2,928.4 1535.1,929.2 1538.0,929.9 1540.9,930.7" stroke="#00f"/>
<path d="M507.1,648.0 509.9,649.0 512.8,650.0 515.6,651.0 518.4,651.9 521.3,652.9 524.1,653.9 527.0,654.9 529.8,655.9 532.7,656.9 535.5,657.9 538.3,658.8 541.2,659.8 544.0,660.8 546.9,661.8 549.7,662.8 552.6,663.8 555.4,664.7 558.2,665.7 561.1,666.7 563.9,667.7 566.8,668.7 569.6,669.6 572.5,670.6 575.3,671.6 578.1,672.6 581.0,673.6 583.8,674.5 586.7,675.5 589.5,676.5 592.4,677.5 595.2,678.5 598.1,679.4 600.9,680.4 603.8,681.4 606.6,682.4 609.4,683.3 612.3,684.3 615.1,685.3 618.0,686.3 620.8,687.2 623.7,688.2 626.5,689.2 629.4,690.2 632.2,691.1 635.1,692.1 637.9,693.1 640.8,694.0 643.6,695.0 646.4,696.0 649.3,697.0 652.1,697.9 655.0,698.9 657.8,699.9 660.7,700.8 663.5,701.8 666.4,702.8 669.2,703.7 672.1,704.7 674.9,705.7 677.8,706.6 680.6,707.6 683.5,708.6 686.3,709.5 689.2,710.5 692.0,711.5 694.9,712.4 697.7,713.4 700.6,714.4 703.4,715.3 706.3,716.3 709.1,717.3 712.0,718.2 714.8,719.2 717.7,720.1 720.5,721.1 723.4,722.1 726.2,723.0 729.1,724.0 731.9,724.9 734.8,725.9 737.6,726.9 740.5,727.8 743.3,728.8 746.2,729.7 749.1,730.7 751.9,731.6 754.8,732.6 757.6,733.5 760.5,734.5 763.3,735.5 766.2,736.4 769.0,737.4 771.9,738.3 774.7,739.3 777.6,740.2 780.4,741.2 783.3,742.1 786.2,743.1 789.0,744.0 791.9,745.0 794.7,745.9 797.6,746.9 800.4,747.8 803.3,748.8 806.1,749.7 809.0,750.7 811.9,751.6 814.7,752.5 817.6,753.5 820.4,754.4 823.3,755.4 826.1,756.3 829.0,757.3 831.8,758.2 834.7,759.2 837.6,760.1 840.4,761.0 843.3,762.0 846.1,762.9 849.0,763.9 851.9,764.8 854.7,765.7 857.6,766.7 860.4,767.6 863.3,768.5 866.2,769.5 869.0,770.4 871.9,771.3 874.7,772.3 877.6,773.2 880.5,774.2 883.3,775.1 886.2,776.0 889.0,777.0 891.9,777.9 894.8,778.8 897.6,779.7 900.5,780.7 903.3,781.6 906.2,782.5 909.1,783.5 911.9,784.4 914.8,785.3 917.7,786.2 920.5,787.2 923.4,788.1 926.2,789.0 929.1,789.9 932.0,790.9 934.8,791.8 937.7,792.7 940.6,793.6 943.4,794.6 946.3,795.5 949.1,796.4 952.0,797.3 954.9,798.2 957.7,799.1 960.6,800.1 963.5,801.0 966.3,801.9 969.2,802.8 972.1,803.7 974.9,804.6 977.8,805.6 980.7,806.5 983.5,807.4 986.4,808.3 989.3,809.2 992.1,810.1 995.0,811.0 997.9,811.9 1000.7,812.9 1003.6,813.8 1006.5,814.7 1009.3,815.6 1012.2,816.5 1015.1,817.4 1018.0,818.3 1020.8,819.2 1023.7,820.1 1026.6,821.0 1029.4,821.9 1032.3,822.8 1035.2,823.7 1038.0,824.6 1040.9,825.5 1043.8,826.4 1046.7,827.3 1049.5,828.2 1052.4,829.1 1055.3,830.0 1058.1,830.9 1061.0,831.8 1063.9,832.7 1066.8,833.6 1069.6,834.5 1072.5,835.4 1075.4,836.3 1078.3,837.2 1081.1,838.1 1084.0,838.9 1086.9,839.8 1089.7,840.7 1092.6,841.6 1095.5,842.5 1098.4,843.4 1101.2,844.3 1104.1,845.2 1107.0,846.0 1109.9,846.9 1112.7,847.8 1115.6,848.7 1118.5,849.6 1121.4,850.5 1124.3,851.3 1127.1,852.2 1130.0,853.1 1132.9,854.0 1135.8,854.9 1138.6,855.7 1141.5,856.6 1144.4,857.5 1147.3,858.4 1150.1,859.2 1153.0,860.1 1155.9,861.0 1158.8,861.9 1161.7,862.7 1164.5,863.6 1167.4,864.5 1170.3,865.3 1173.2,866.2 1176.1,867.1 1178.9,867.9 1181.8,868.8 1184.7,869.7 1187.6,870.5 1190.5,871.4 1193.4,872.3 1196.2,873.1 1199.1,874.0 1202.0,874.8 1204.9,875.7 1207.8,876.6 1210.6,877.4 1213.5,878.3 1216.4,879.1 1219.3,880.0 1222.2,880.9 1225.1,881.7 1227.9,882.6 1230.8,883.4 1233.7,884.3 1236.6,885.1 1239.5,886.0 1242.4,886.8 1245.3,887.7 1248.1,888.5 1251.0,889.4 1253.9,890.2 1256.8,891.1 1259.7,891.9 1262.6,892.7 1265.5,893.6 1268.4,894.4 1271.2,895.3 1274.1,896.1 1277.0,897.0 1279.9,897.8 1282.8,898.6 1285.7,899.5 1288.6,900.3 1291.5,901.2 1294.4,902.0 1297.2,902.8 1300.1,903.7 1303.0,904.5 1305.9,905.3 1308.8,906.2 1311.7,907.0 1314.6,907.8 1317.5,908.6 1320.4,909.5 1323.3,910.3 1326.2,911.1 1329.0,912.0 1331.9,912.8 1334.8,913.6 1337.7,914.4 1340.6,915.2 1343.5,916.1 1346.4,916.9 1349.3,917.7 1352.2,918.5 1355.1,919.3 1358.0,920.2 1360.9,921.0 1363.8,921.8 1366.7,922.6 1369.6,923.4 1372.5,924.2 1375.4,925.0 1378.3,925.9 1381.2,926.7 1384.0,927.5 1386.9,928.3 1389.8,929.1 1392.7,929.9 1395.6,930.7 1398.5,931.5 1401.4,932.3 1404.3,933.1 1407.2,933.9 1410.1,934.7 1413.0,935.5 1415.9,936.3 1418.8,937.1 1421.7,937.9 1424.6,938.7 1427.5,939.5 1430.4,940.3 1433.3,941.1 1436.2,941.9 1439.1,942.7 1442.0,943.5 1444.9,944.3 1447.8,945.1 1450.8,945.8 1453.7,946.6 1456.6,947.4 1459.5,948.2 1462.4,949.0 1465.3,949.8 1468.2,950.6 1471.1,951.3 1474.0,952.1 1476.9,952.9 1479.8,953.7 1482.7,954.5 1485.6,955.2 1488.5,956.0 1491.4,956.8 1494.3,957.6 1497.2,958.3 1500.1,959.1 1503.0,959.9 1506.0,960.6 1508.9,961.4 1511.8,962.2 1514.7,962.9 1517.6,963.7 1520.5,964.5 1523.4,965.2 1526.3,966.0 1529.2,966.8 1532.1,967.5 1535.0,968.3 1538.0,969.1 1540.9,969.8" stroke="#f0f"/>
<path d="M506.8,899.7 509.6,900.8 512.5,901.8 515.3,902.9 518.1,903.9 520.9,905.0 523.8,906.0 526.6,907.1 529.4,908.1 532.2,909.2 535.1,910.2 537.9,911.3 540.7,912.3 543.5,913.4 546.4,914.4 549.2,915.4 552.0,916.5 554.8,917.5 557.7,918.6 560.5,919.6 563.3,920.6 566.2,921.7 569.0,922.7 571.8,923.7 574.6,924.8 577.5,925.8 580.3,926.8 583.1,927.8 586.0,928.9 588.8,929.9 591.6,930.9 594.5,931.9 597.3,933.0 600.1,934.0 603.0,935.0 605.8,936.0 608.6,937.0 611.5,938.1 614.3,939.1 617.1,940.1 620.0,941.1 622.8,942.1 625.7,943.1 628.5,944.1 631.3,945.1 634.2,946.2 637.0,947.2 639.8,948.2 642.7,949.2 645.5,950.2 648.4,951.2 651.2,952.2 654.0,953.2 656.9,954.2 659.7,955.2 662.6,956.2 665.4,957.2 668.3,958.2 671.1,959.2 673.9,960.2 676.8,961.1 679.6,962.1 682.5,963.1 685.3,964.1 688.2,965.1 691.0,966.1 693.9,967.1 696.7,968.1 699.5,969.1 702.4,970.0 705.2,971.0 708.1,972.0 710.9,973.0 713.8,974.0 716.6,974.9 719.5,975.9 722.3,976.9 725.2,977.9 728.0,978.8 730.9,979.8 733.7,980.8 736.6,981.8 739.4,982.7 742.3,983.7 745.1,984.7 748.0,985.6 750.8,986.6 753.7,987.6 756.5,988.5 759.4,989.5 762.3,990.5 765.1,991.4 768.0,992.4 770.8,993.4 773.7,994.3 776.5,995.3 779.4,996.2 782.2,997.2 785.1,998.1 787.9,999.1 790.8,1000.1 793.7,1001.0 796.5,1002.0 799.4,1002.9 802.2,1003.9 805.1,1004.8 808.0,1005.8 810.8,1006.7 813.7,1007.7 816.5,1008.6 819.4,1009.5 822.2,1010.5 825.1,1011.4 828.0,1012.4 830.8,1013.3 833.7,1014.3 836.6,1015.2 839.4,1016.1 842.3,1017.1 845.1,1018.0 848.0,1019.0 850.9,1019.9 853.7,1020.8 856.6,1021.8 859.5,1022.7 862.3,1023.6 865.2,1024.6 868.0,1025.5 870.9,1026.4 873.8,1027.4 876.6,1028.3 879.5,1029.2 882.4,1030.1 885.2,1031.1 888.1,1032.0 891.0,1032.9 893.8,1033.8 896.7,1034.8 899.6,1035.7 902.4,1036.6 905.3,1037.5 908.2,1038.4 911.0,1039.4 913.9,1040.3 916.8,1041.2 919.7,1042.1 922.5,1043.0 925.4,1043.9 928.3,1044.9 931.1,1045.8 934.0,1046.7 936.9,1047.6 939.7,1048.5 942.6,1049.4 945.5,1050.3 948.4,1051.2 951.2,1052.1 954.1,1053.1 957.0,1054.0 959.9,1054.9 962.7,1055.8 965.6,1056.7 968.5,1057.6 971.3,1058.5 974.2,1059.4 977.1,1060.3 980.0,1061.2 982.8,1062.1 985.7,1063.0 988.6,1063.9 991.5,1064.8 994.3,1065.7 997.2,1066.6 1000.1,1067.5 1003.0,1068.4 1005.9,1069.3 1008.7,1070.2 1011.6,1071.0 1014.5,1071.9 1017.4,1072.8 1020.2,1073.7 1023.1,1074.6 1026.0,1075.5 1028.9,1076.4 1031.8,1077.3 1034.6,1078.2 1037.5,1079.1 1040.4,1079.9 1043.3,1080.8 1046.1,1081.7 1049.0,1082.6 1051.9,1083.5 1054.8,1084.4 1057.7,1085.2 1060.5,1086.1 1063.4,1087.0 1066.3,1087.9 1069.2,1088.8 1072.1,1089.6 1075.0,1090.5 1077.8,1091.4 1080.7,1092.3 1083.6,1093.2 1086.5,1094.0 1089.4,1094.9 1092.2,1095.8 1095.1,1096.7 1098.0,1097.5 1100.9,1098.4 1103.8,1099.3 1106.7,1100.1 1109.5,1101.0 1112.4,1101.9 1115.3,1102.8 1118.2,1103.6 1121.1,1104.5 1124.0,1105.4 1126.9,1106.2 1129.7,1107.1 1132.6,1108.0 1135.5,1108.8 1138.4,1109.7 1141.3,1110.6 1144.2,1111.4 1147.1,1112.3 1149.9,1113.2 1152.8,1114.0 1155.7,1114.9 1158.6,1115.7 1161.5,1116.6 1164.4,1117.5 1167.3,1118.3 1170.1,1119.2 1173.0,1120.0 1175.9,1120.9 1178.8,1121.8 1181.7,1122.6 1184.6,1123.5 1187.5,1124.3 1190.4,1125.2 1193.3,1126.0 1196.1,1126.9 1199.0,1127.7 1201.9,1128.6 1204.8,1129.5 1207.7,1130.3 1210.6,1131.2 1213.5,1132.0 1216.4,1132.9 1219.3,1133.7 1222.1,1134.6 1225.0,1135.4 1227.9,1136.3 1230.8,1137.1 1233.7,1138.0 1236.6,1138.8 1239.5,1139.6 1242.4,1140.5 1245.3,1141.3 1248.2,1142.2 1251.1,1143.0 1254.0,1143.9 1256.8,1144.7 1259.7,1145.6 1262.6,1146.4 1265.5,1147.2 1268.4,1148.1 1271.3,1148.9 1274.2,1149.8 1277.1,1150.6 1280.0,1151.5 1282.9,1152.3 1285.8,1153.1 1288.7,1154.0 1291.6,1154.8 1294.4,1155.7 1297.3,1156.5 1300.2,1157.3 1303.1,1158.2 1306.0,1159.0 1308.9,1159.8 1311.8,1160.7 1314.7,1161.5 1317.6,1162.3 1320.5,1163.2 1323.4,1164.0 1326.3,1164.9 1329.2,1165.7 1332.1,1166.5 1335.0,1167.4 1337.9,1168.2 1340.8,1169.0 1343.6,1169.8 1346.5,1170.7 1349.4,1171.5 1352.3,1172.3 1355.2,1173.2 1358.1,1174.0 1361.0,1174.8 1363.9,1175.7 1366.8,1176.5 1369.7,1177.3 1372.6,1178.1 1375.5,1179.0 1378.4,1179.8 1381.3,1180.6 1384.2,1181.5 1387.1,1182.3 1390.0,1183.1 1392.9,1183.9 1395.8,1184.8 1398.7,1185.6 1401.6,1186.4 1404.5,1187.2 1407.4,1188.1 1410.3,1188.9 1413.2,1189.7 1416.1,1190.5 1419.0,1191.4 1421.8,1192.2 1424.7,1193.0 1427.6,1193.8 1430.5,1194.6 1433.4,1195.5 1436.3,1196.3 1439.2,1197.1 1442.1,1197.9 1445.0,1198.7 1447.9,1199.6 1450.8,1200.4 1453.7,1201.2 1456.6,1202.0 1459.5,1202.8 1462.4,1203.7 1465.3,1204.5 1468.2,1205.3 1471.1,1206.1 1474.0,1206.9 1476.9,1207.7 1479.8,1208.6 1482.7,1209.4 1485.6,1210.2 1488.5,1211.0 1491.4,1211.8 1494.3,1212.6 1497.2,1213.5 1500.1,1214.3 1503.0,1215.1 1505.9,1215.9 1508.8,1216.7 1511.7,1217.5 1514.6,1218.4 1517.5,1219.2 1520.4,1220.0 1523.3,1220.8 1526.2,1221.6 1529.1,1222.4 1532.0,1223.2 1534.9,1224.0 1537.8,1224.9 1540.7,1225.7" stroke="#008000"/>
</g>
<g fill="none">
<line x1="506" y1="534.5" x2="506" y2="1303" stroke="#555" stroke-width="5"/>
<line x1="503.5" y1="537" x2="1541.3" y2="537" stroke="#555" stroke-width="5"/>
<line x1="503.5" y1="1300.5" x2="1542.8" y2="1300.5" stroke="#555" stroke-width="5"/>
<line x1="1541.3" y1="534.5" x2="1541.3" y2="1300.5" stroke="#000" stroke-width="3.2"/>
</g>
<g stroke="#1a1a1a" stroke-width="3.6">
<line x1="508" y1="1258.12" x2="514.1" y2="1258.12"/>
<line x1="508" y1="1215.7" x2="522.3" y2="1215.7"/>
<line x1="508" y1="1173.28" x2="514.1" y2="1173.28"/>
<line x1="508" y1="1130.85" x2="522.3" y2="1130.85"/>
<line x1="508" y1="1088.42" x2="514.1" y2="1088.42"/>
<line x1="508" y1="1046" x2="522.3" y2="1046"/>
<line x1="508" y1="1003.57" x2="514.1" y2="1003.57"/>
<line x1="508" y1="961.15" x2="522.3" y2="961.15"/>
<line x1="508" y1="918.72" x2="514.1" y2="918.72"/>
<line x1="508" y1="876.3" x2="522.3" y2="876.3"/>
<line x1="508" y1="833.88" x2="514.1" y2="833.88"/>
<line x1="508" y1="791.45" x2="522.3" y2="791.45"/>
<line x1="508" y1="749.02" x2="514.1" y2="749.02"/>
<line x1="508" y1="706.6" x2="522.3" y2="706.6"/>
<line x1="508" y1="664.17" x2="514.1" y2="664.17"/>
<line x1="508" y1="621.75" x2="522.3" y2="621.75"/>
<line x1="508" y1="579.32" x2="514.1" y2="579.32"/>
<line x1="609.73" y1="1298.5" x2="609.73" y2="1290.4"/>
<line x1="713.25" y1="1298.5" x2="713.25" y2="1284.4"/>
<line x1="816.77" y1="1298.5" x2="816.77" y2="1290.4"/>
<line x1="920.3" y1="1298.5" x2="920.3" y2="1284.4"/>
<line x1="1023.83" y1="1298.5" x2="1023.83" y2="1290.4"/>
<line x1="1127.35" y1="1298.5" x2="1127.35" y2="1284.4"/>
<line x1="1230.88" y1="1298.5" x2="1230.88" y2="1290.4"/>
<line x1="1334.4" y1="1298.5" x2="1334.4" y2="1284.4"/>
<line x1="1437.92" y1="1298.5" x2="1437.92" y2="1290.4"/>
</g>
<g font-family="'Liberation Sans', Arial, Helvetica, sans-serif">
<text x="434.18" y="1314.35" font-size="51.5" textLength="55.22" lengthAdjust="spacingAndGlyphs" fill="#000">67</text>
<text x="433.8" y="1229.5" font-size="51.5" textLength="55.22" lengthAdjust="spacingAndGlyphs" fill="#000">68</text>
<text x="433.93" y="1144.65" font-size="51.5" textLength="55.22" lengthAdjust="spacingAndGlyphs" fill="#000">69</text>
<text x="433.55" y="1059.8" font-size="51.5" textLength="55.22" lengthAdjust="spacingAndGlyphs" fill="#000">70</text>
<text x="434.05" y="974.95" font-size="51.5" textLength="55.22" lengthAdjust="spacingAndGlyphs" fill="#000">71</text>
<text x="434.18" y="890.1" font-size="51.5" textLength="55.22" lengthAdjust="spacingAndGlyphs" fill="#000">72</text>
<text x="433.8" y="805.25" font-size="51.5" textLength="55.22" lengthAdjust="spacingAndGlyphs" fill="#000">73</text>
<text x="433.06" y="720.4" font-size="51.5" textLength="55.22" lengthAdjust="spacingAndGlyphs" fill="#000">74</text>
<text x="433.68" y="635.55" font-size="51.5" textLength="55.22" lengthAdjust="spacingAndGlyphs" fill="#000">75</text>
<text x="433.8" y="550.7" font-size="51.5" textLength="55.22" lengthAdjust="spacingAndGlyphs" fill="#000">76</text>
<text x="466.15" y="1354" font-size="50.7" textLength="80.03" lengthAdjust="spacingAndGlyphs" fill="#000">550</text>
<text x="673.2" y="1354" font-size="50.7" textLength="80.03" lengthAdjust="spacingAndGlyphs" fill="#000">560</text>
<text x="880.25" y="1354" font-size="50.7" textLength="80.03" lengthAdjust="spacingAndGlyphs" fill="#000">570</text>
<text x="1087.3" y="1354" font-size="50.7" textLength="80.03" lengthAdjust="spacingAndGlyphs" fill="#000">580</text>
<text x="1294.35" y="1354" font-size="50.7" textLength="80.03" lengthAdjust="spacingAndGlyphs" fill="#000">590</text>
<text x="1501.16" y="1354" font-size="50.7" textLength="80.03" lengthAdjust="spacingAndGlyphs" fill="#000">600</text>
<text x="835.21" y="1433.5" font-size="49" textLength="377.25" lengthAdjust="spacingAndGlyphs" fill="#000">Temperature (°C)</text>
<text transform="rotate(-90)" x="-1084.94" y="387.6" font-size="48.3" textLength="338.44" lengthAdjust="spacingAndGlyphs" fill="#000">Weight loss (%)</text>
</g>
</svg>
</body></html>
